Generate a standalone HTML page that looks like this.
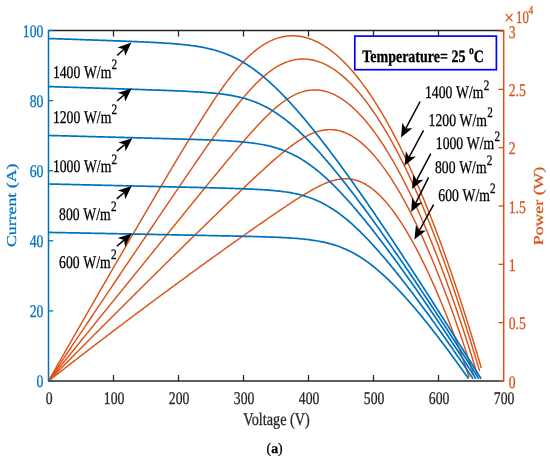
<!DOCTYPE html>
<html><head><meta charset="utf-8"><style>html,body{margin:0;padding:0;background:#fff;}svg{display:block;}</style></head>
<body><svg width="550" height="462" viewBox="0 0 550 462" text-rendering="geometricPrecision" font-family="'Liberation Serif', 'Times New Roman', serif">
<rect width="550" height="462" fill="#fff"/>
<path d="M48.50,381.00 L49.25,379.68 L50.00,378.35 L50.75,377.03 L51.50,375.71 L52.25,374.39 L53.00,373.06 L53.75,371.74 L54.50,370.42 L55.26,369.10 L56.01,367.78 L56.76,366.46 L57.51,365.14 L58.26,363.82 L59.01,362.50 L59.76,361.18 L60.51,359.86 L61.26,358.54 L62.01,357.22 L62.76,355.91 L63.51,354.59 L64.26,353.27 L65.01,351.96 L65.76,350.64 L66.52,349.32 L67.27,348.01 L68.02,346.69 L68.77,345.38 L69.52,344.06 L70.27,342.75 L71.02,341.43 L71.77,340.12 L72.52,338.80 L73.27,337.49 L74.02,336.18 L74.77,334.87 L75.52,333.55 L76.27,332.24 L77.02,330.93 L77.78,329.62 L78.53,328.31 L79.28,327.00 L80.03,325.69 L80.78,324.38 L81.53,323.07 L82.28,321.76 L83.03,320.45 L83.78,319.14 L84.53,317.83 L85.28,316.52 L86.03,315.22 L86.78,313.91 L87.53,312.60 L88.29,311.29 L89.04,309.99 L89.79,308.68 L90.54,307.38 L91.29,306.07 L92.04,304.77 L92.79,303.46 L93.54,302.16 L94.29,300.85 L95.04,299.55 L95.79,298.24 L96.54,296.94 L97.29,295.64 L98.05,294.34 L98.80,293.03 L99.55,291.73 L100.30,290.43 L101.05,289.13 L101.80,287.83 L102.55,286.53 L103.30,285.23 L104.05,283.93 L104.80,282.63 L105.55,281.33 L106.30,280.03 L107.06,278.73 L107.82,277.41 L108.58,276.09 L109.34,274.77 L110.10,273.46 L110.87,272.14 L111.63,270.82 L112.39,269.51 L113.15,268.19 L113.92,266.88 L114.68,265.56 L115.44,264.24 L116.21,262.93 L116.97,261.61 L117.73,260.30 L118.49,258.99 L119.26,257.67 L120.02,256.36 L120.78,255.05 L121.54,253.73 L122.31,252.42 L123.07,251.11 L123.83,249.80 L124.59,248.49 L125.36,247.18 L126.12,245.87 L126.88,244.55 L127.65,243.24 L128.41,241.93 L129.17,240.63 L129.94,239.32 L130.70,238.01 L131.46,236.70 L132.22,235.39 L132.99,234.08 L133.75,232.77 L134.51,231.47 L135.28,230.16 L136.04,228.85 L136.80,227.55 L137.57,226.24 L138.33,224.94 L139.10,223.63 L139.86,222.32 L140.62,221.02 L141.39,219.72 L142.15,218.41 L142.91,217.11 L143.68,215.80 L144.44,214.50 L145.21,213.20 L145.97,211.89 L146.74,210.59 L147.50,209.29 L148.26,207.99 L149.03,206.68 L149.79,205.38 L150.56,204.08 L151.32,202.78 L152.09,201.48 L152.85,200.18 L153.62,198.88 L154.39,197.58 L155.15,196.28 L155.92,194.98 L156.68,193.68 L157.45,192.38 L158.22,191.08 L158.98,189.79 L159.75,188.49 L160.52,187.19 L161.28,185.89 L162.05,184.59 L162.82,183.30 L163.59,182.00 L164.36,180.70 L165.12,179.41 L165.89,178.11 L166.66,176.81 L167.43,175.52 L168.20,174.22 L168.97,172.93 L169.74,171.63 L170.51,170.34 L171.28,169.04 L172.05,167.75 L172.83,166.45 L173.60,165.16 L174.37,163.87 L175.14,162.57 L175.92,161.28 L176.69,159.98 L177.47,158.69 L178.24,157.40 L179.02,156.10 L179.80,154.81 L180.57,153.52 L181.35,152.23 L182.13,150.93 L182.91,149.64 L183.69,148.35 L184.47,147.06 L185.25,145.77 L186.03,144.48 L186.82,143.18 L187.60,141.89 L188.39,140.60 L189.17,139.31 L189.96,138.02 L190.75,136.73 L191.54,135.44 L192.33,134.15 L193.13,132.86 L193.92,131.57 L194.71,130.28 L195.51,128.99 L196.31,127.70 L197.11,126.41 L197.91,125.12 L198.71,123.83 L199.52,122.54 L200.33,121.26 L201.14,119.97 L201.95,118.68 L202.75,117.41 L203.55,116.14 L204.36,114.88 L205.17,113.61 L205.98,112.34 L206.79,111.07 L207.61,109.81 L208.42,108.54 L209.25,107.28 L210.07,106.01 L210.90,104.75 L211.73,103.48 L212.57,102.22 L213.41,100.95 L214.25,99.69 L215.10,98.43 L215.95,97.17 L216.80,95.91 L217.65,94.67 L218.50,93.43 L219.36,92.19 L220.22,90.96 L221.09,89.72 L221.96,88.49 L222.84,87.25 L223.72,86.02 L224.61,84.79 L225.51,83.56 L226.41,82.34 L227.31,81.13 L228.21,79.93 L229.12,78.73 L230.04,77.53 L230.97,76.34 L231.91,75.15 L232.85,73.96 L233.80,72.77 L234.75,71.61 L235.71,70.45 L236.68,69.30 L237.66,68.15 L238.65,67.00 L239.65,65.87 L240.66,64.73 L241.69,63.60 L242.71,62.50 L243.74,61.40 L244.79,60.32 L245.85,59.23 L246.93,58.16 L248.02,57.10 L249.11,56.06 L250.22,55.04 L251.34,54.02 L252.48,53.02 L253.64,52.03 L254.80,51.07 L255.98,50.12 L257.17,49.19 L258.39,48.27 L259.61,47.39 L260.85,46.52 L262.11,45.68 L263.37,44.86 L264.66,44.07 L265.96,43.30 L267.28,42.57 L268.61,41.87 L269.97,41.19 L271.34,40.55 L272.73,39.94 L274.12,39.37 L275.54,38.83 L276.96,38.34 L278.41,37.88 L279.87,37.47 L281.35,37.10 L282.83,36.77 L284.32,36.49 L285.81,36.26 L287.32,36.07 L288.84,35.92 L290.35,35.83 L291.86,35.79 L293.37,35.79 L294.87,35.84 L296.37,35.93 L297.89,36.08 L299.41,36.27 L300.92,36.50 L302.43,36.79 L303.92,37.11 L305.40,37.48 L306.86,37.88 L308.31,38.32 L309.75,38.80 L311.16,39.32 L312.60,39.88 L314.02,40.47 L315.42,41.10 L316.80,41.75 L318.15,42.43 L319.52,43.15 L320.87,43.89 L322.19,44.65 L323.48,45.43 L324.78,46.25 L326.06,47.09 L327.35,47.96 L328.61,48.84 L329.83,49.73 L331.07,50.66 L332.27,51.59 L333.49,52.55 L334.66,53.51 L335.85,54.51 L337.00,55.50 L338.16,56.52 L339.28,57.54 L340.41,58.58 L341.55,59.66 L342.65,60.72 L343.76,61.81 L344.81,62.88 L345.88,63.98 L346.96,65.11 L347.99,66.21 L349.03,67.33 L350.08,68.49 L351.14,69.68 L352.14,70.83 L353.16,72.01 L354.18,73.21 L355.15,74.37 L356.12,75.55 L357.10,76.77 L358.09,78.01 L359.02,79.19 L359.96,80.40 L360.91,81.63 L361.86,82.89 L362.82,84.17 L363.72,85.39 L364.63,86.63 L365.54,87.90 L366.46,89.19 L367.38,90.50 L368.24,91.74 L369.11,92.99 L369.98,94.27 L370.86,95.57 L371.74,96.90 L372.63,98.25 L373.52,99.62 L374.35,100.89 L375.18,102.19 L376.02,103.51 L376.86,104.85 L377.70,106.21 L378.56,107.59 L379.41,108.99 L380.20,110.29 L380.99,111.60 L381.78,112.93 L382.57,114.29 L383.38,115.66 L384.18,117.04 L384.99,118.45 L385.81,119.88 L386.63,121.33 L387.37,122.65 L388.12,123.99 L388.87,125.34 L389.62,126.72 L390.38,128.10 L391.14,129.51 L391.90,130.94 L392.67,132.38 L393.45,133.84 L394.22,135.32 L395.01,136.81 L395.70,138.16 L396.40,139.52 L397.11,140.89 L397.82,142.29 L398.53,143.69 L399.24,145.11 L399.96,146.55 L400.68,148.00 L401.40,149.47 L402.13,150.96 L402.86,152.46 L403.60,153.98 L404.33,155.51 L404.98,156.87 L405.63,158.24 L406.29,159.62 L406.94,161.02 L407.60,162.43 L408.26,163.85 L408.93,165.29 L409.59,166.74 L410.26,168.20 L410.94,169.68 L411.61,171.17 L412.29,172.68 L412.97,174.20 L413.65,175.73 L414.34,177.28 L415.03,178.84 L415.72,180.42 L416.41,182.02 L417.01,183.39 L417.61,184.78 L418.21,186.18 L418.82,187.60 L419.42,189.02 L420.03,190.45 L420.64,191.90 L421.26,193.36 L421.87,194.83 L422.49,196.31 L423.11,197.80 L423.73,199.31 L424.35,200.82 L424.98,202.35 L425.60,203.90 L426.23,205.45 L426.87,207.02 L427.50,208.60 L428.14,210.19 L428.78,211.79 L429.42,213.41 L430.06,215.04 L430.71,216.69 L431.36,218.34 L432.01,220.01 L432.55,221.42 L433.10,222.83 L433.64,224.25 L434.19,225.68 L434.74,227.12 L435.30,228.57 L435.85,230.03 L436.40,231.50 L436.96,232.97 L437.52,234.46 L438.08,235.96 L438.64,237.47 L439.21,238.99 L439.77,240.52 L440.34,242.05 L440.91,243.60 L441.48,245.16 L442.05,246.73 L442.62,248.31 L443.20,249.90 L443.78,251.50 L444.35,253.11 L444.94,254.74 L445.52,256.37 L446.10,258.01 L446.69,259.67 L447.28,261.33 L447.86,263.01 L448.46,264.70 L449.05,266.40 L449.64,268.11 L450.24,269.83 L450.84,271.56 L451.44,273.30 L452.04,275.06 L452.64,276.83 L453.13,278.25 L453.61,279.68 L454.10,281.12 L454.59,282.56 L455.08,284.01 L455.57,285.47 L456.06,286.94 L456.55,288.42 L457.04,289.90 L457.54,291.39 L458.03,292.89 L458.53,294.40 L459.03,295.91 L459.53,297.43 L460.03,298.97 L460.53,300.50 L461.04,302.05 L461.54,303.61 L462.05,305.17 L462.55,306.74 L463.06,308.32 L463.57,309.91 L464.08,311.51 L464.59,313.11 L465.11,314.72 L465.62,316.35 L466.13,317.98 L466.65,319.61 L467.17,321.26 L467.69,322.92 L468.21,324.58 L468.73,326.26 L469.25,327.94 L469.78,329.63 L470.30,331.33 L470.83,333.04 L471.36,334.76 L471.89,336.48 L472.42,338.22 L472.95,339.96 L473.48,341.72 L474.02,343.48 L474.55,345.26 L475.09,347.04 L475.63,348.83 L476.17,350.63 L476.71,352.44 L477.25,354.26 L477.80,356.09 L478.34,357.93 L478.89,359.78 L479.43,361.63 L479.98,363.50 L480.53,365.38 L481.08,367.27 L481.30,368.00" fill="none" stroke="#D95319" stroke-width="1.45" stroke-linejoin="round"/>
<path d="M48.50,381.00 L49.34,379.74 L50.19,378.48 L51.03,377.22 L51.88,375.96 L52.72,374.70 L53.57,373.44 L54.41,372.18 L55.26,370.91 L56.10,369.65 L56.95,368.39 L57.80,367.13 L58.64,365.87 L59.49,364.61 L60.33,363.35 L61.18,362.09 L62.02,360.83 L62.87,359.56 L63.71,358.30 L64.56,357.04 L65.40,355.78 L66.25,354.52 L67.09,353.26 L67.94,352.00 L68.79,350.74 L69.63,349.48 L70.48,348.22 L71.32,346.96 L72.17,345.70 L73.01,344.44 L73.86,343.18 L74.70,341.92 L75.55,340.66 L76.39,339.40 L77.24,338.14 L78.09,336.88 L78.93,335.62 L79.78,334.36 L80.62,333.10 L81.47,331.84 L82.31,330.58 L83.16,329.32 L84.00,328.06 L84.85,326.80 L85.69,325.54 L86.54,324.29 L87.39,323.03 L88.23,321.77 L89.08,320.51 L89.92,319.25 L90.77,317.99 L91.61,316.73 L92.46,315.47 L93.30,314.21 L94.15,312.96 L94.99,311.70 L95.84,310.44 L96.69,309.18 L97.53,307.92 L98.38,306.66 L99.22,305.40 L100.07,304.15 L100.91,302.89 L101.76,301.63 L102.60,300.37 L103.45,299.11 L104.29,297.86 L105.14,296.60 L105.99,295.34 L106.83,294.08 L107.68,292.82 L108.52,291.57 L109.37,290.31 L110.21,289.05 L111.06,287.79 L111.90,286.54 L112.75,285.28 L113.60,284.02 L114.44,282.76 L115.29,281.51 L116.13,280.25 L116.98,278.99 L117.82,277.73 L118.67,276.48 L119.52,275.22 L120.36,273.96 L121.21,272.71 L122.05,271.45 L122.90,270.19 L123.74,268.93 L124.59,267.68 L125.44,266.42 L126.28,265.16 L127.13,263.91 L127.97,262.65 L128.82,261.39 L129.67,260.14 L130.51,258.88 L131.36,257.63 L132.20,256.37 L133.05,255.11 L133.90,253.86 L134.74,252.60 L135.59,251.34 L136.43,250.09 L137.28,248.83 L138.13,247.58 L138.97,246.32 L139.82,245.06 L140.66,243.81 L141.51,242.55 L142.36,241.30 L143.20,240.04 L144.05,238.79 L144.90,237.53 L145.74,236.27 L146.59,235.02 L147.44,233.76 L148.28,232.51 L149.13,231.25 L149.98,230.00 L150.82,228.74 L151.67,227.49 L152.52,226.23 L153.37,224.98 L154.21,223.72 L155.06,222.46 L155.91,221.21 L156.75,219.95 L157.60,218.70 L158.45,217.44 L159.30,216.19 L160.15,214.93 L160.99,213.68 L161.84,212.43 L162.69,211.17 L163.54,209.92 L164.39,208.66 L165.23,207.41 L166.08,206.15 L166.93,204.90 L167.78,203.64 L168.63,202.39 L169.48,201.13 L170.33,199.88 L171.18,198.63 L172.03,197.37 L172.88,196.12 L173.73,194.86 L174.58,193.61 L175.43,192.35 L176.28,191.10 L177.13,189.85 L177.98,188.59 L178.84,187.34 L179.69,186.09 L180.54,184.83 L181.39,183.58 L182.24,182.32 L183.10,181.07 L183.95,179.82 L184.81,178.56 L185.66,177.31 L186.51,176.06 L187.37,174.81 L188.23,173.55 L189.08,172.30 L189.94,171.05 L190.79,169.79 L191.65,168.54 L192.51,167.29 L193.37,166.04 L194.23,164.79 L195.09,163.53 L195.95,162.28 L196.81,161.03 L197.67,159.78 L198.53,158.53 L199.40,157.28 L200.25,156.04 L201.10,154.81 L201.96,153.58 L202.81,152.34 L203.67,151.11 L204.52,149.88 L205.38,148.64 L206.24,147.41 L207.10,146.18 L207.96,144.95 L208.82,143.72 L209.69,142.49 L210.55,141.26 L211.42,140.03 L212.29,138.80 L213.16,137.57 L214.03,136.34 L214.90,135.11 L215.77,133.89 L216.65,132.66 L217.52,131.44 L218.40,130.21 L219.28,128.99 L220.17,127.77 L221.05,126.54 L221.94,125.32 L222.83,124.10 L223.72,122.89 L224.62,121.67 L225.51,120.45 L226.41,119.24 L227.32,118.02 L228.22,116.81 L229.13,115.60 L230.04,114.39 L230.96,113.19 L231.88,111.98 L232.80,110.78 L233.73,109.58 L234.66,108.38 L235.59,107.19 L236.53,106.00 L237.48,104.81 L238.43,103.62 L239.38,102.44 L240.32,101.27 L241.28,100.11 L242.23,98.95 L243.20,97.80 L244.16,96.65 L245.14,95.51 L246.12,94.37 L247.11,93.23 L248.10,92.10 L249.11,90.98 L250.12,89.86 L251.13,88.75 L252.16,87.65 L253.20,86.55 L254.24,85.46 L255.29,84.38 L256.36,83.30 L257.43,82.24 L258.52,81.18 L259.61,80.14 L260.72,79.10 L261.84,78.08 L262.98,77.07 L264.12,76.07 L265.27,75.11 L266.42,74.15 L267.60,73.21 L268.79,72.29 L269.99,71.38 L271.21,70.49 L272.45,69.62 L273.71,68.77 L274.98,67.95 L276.26,67.15 L277.55,66.39 L278.87,65.64 L280.21,64.93 L281.55,64.25 L282.92,63.60 L284.31,62.99 L285.70,62.41 L287.12,61.88 L288.54,61.38 L289.99,60.93 L291.45,60.52 L292.91,60.15 L294.40,59.83 L295.89,59.56 L297.39,59.35 L298.90,59.18 L300.41,59.06 L301.93,58.99 L303.45,58.98 L304.97,59.02 L306.47,59.11 L307.98,59.25 L309.48,59.44 L310.99,59.68 L312.47,59.96 L313.94,60.30 L315.42,60.68 L316.86,61.09 L318.30,61.56 L319.73,62.06 L321.15,62.61 L322.57,63.19 L323.95,63.81 L325.31,64.45 L326.67,65.13 L328.01,65.85 L329.33,66.59 L330.65,67.36 L331.94,68.16 L333.22,68.98 L334.49,69.82 L335.73,70.69 L336.95,71.57 L338.19,72.49 L339.41,73.43 L340.60,74.38 L341.77,75.33 L342.95,76.33 L344.11,77.34 L345.24,78.35 L346.39,79.39 L347.50,80.44 L348.59,81.48 L349.69,82.56 L350.76,83.63 L351.84,84.73 L352.88,85.83 L353.94,86.96 L354.96,88.07 L356.00,89.21 L357.00,90.34 L358.00,91.50 L359.02,92.68 L360.00,93.85 L360.99,95.04 L361.94,96.21 L362.90,97.40 L363.87,98.62 L364.80,99.81 L365.73,101.02 L366.67,102.26 L367.57,103.47 L368.48,104.69 L369.40,105.95 L370.32,107.23 L371.19,108.46 L372.08,109.72 L372.97,111.00 L373.87,112.31 L374.72,113.57 L375.58,114.85 L376.44,116.15 L377.31,117.47 L378.13,118.74 L378.96,120.02 L379.79,121.33 L380.63,122.66 L381.47,124.01 L382.27,125.30 L383.06,126.60 L383.87,127.93 L384.68,129.27 L385.49,130.64 L386.31,132.03 L387.07,133.33 L387.84,134.66 L388.62,136.01 L389.40,137.37 L390.18,138.76 L390.97,140.17 L391.70,141.48 L392.44,142.82 L393.18,144.17 L393.92,145.54 L394.67,146.92 L395.42,148.33 L396.18,149.75 L396.94,151.20 L397.64,152.53 L398.35,153.89 L399.05,155.26 L399.77,156.65 L400.48,158.06 L401.20,159.48 L401.93,160.92 L402.65,162.37 L403.39,163.85 L404.05,165.20 L404.73,166.57 L405.40,167.96 L406.08,169.36 L406.76,170.78 L407.44,172.21 L408.13,173.65 L408.82,175.12 L409.51,176.59 L410.21,178.09 L410.91,179.60 L411.55,180.97 L412.18,182.36 L412.82,183.76 L413.46,185.17 L414.11,186.60 L414.75,188.04 L415.40,189.50 L416.06,190.97 L416.71,192.45 L417.37,193.95 L418.03,195.46 L418.70,196.99 L419.36,198.53 L419.96,199.91 L420.56,201.31 L421.16,202.72 L421.76,204.14 L422.36,205.57 L422.97,207.01 L423.58,208.47 L424.19,209.94 L424.81,211.42 L425.42,212.91 L426.04,214.42 L426.66,215.94 L427.29,217.47 L427.92,219.02 L428.54,220.58 L429.18,222.15 L429.81,223.74 L430.37,225.14 L430.92,226.55 L431.48,227.97 L432.05,229.40 L432.61,230.84 L433.18,232.29 L433.74,233.75 L434.31,235.23 L434.89,236.71 L435.46,238.21 L436.04,239.71 L436.61,241.23 L437.19,242.76 L437.78,244.30 L438.36,245.86 L438.95,247.42 L439.53,249.00 L440.12,250.58 L440.72,252.18 L441.31,253.80 L441.91,255.42 L442.50,257.06 L443.02,258.47 L443.54,259.89 L444.05,261.32 L444.57,262.76 L445.09,264.20 L445.61,265.66 L446.14,267.13 L446.66,268.60 L447.19,270.09 L447.72,271.58 L448.25,273.09 L448.78,274.60 L449.31,276.13 L449.85,277.66 L450.38,279.20 L450.92,280.76 L451.46,282.32 L452.00,283.89 L452.55,285.47 L453.09,287.07 L453.64,288.67 L454.18,290.28 L454.73,291.91 L455.28,293.54 L455.84,295.18 L456.39,296.84 L456.95,298.50 L457.50,300.18 L458.06,301.87 L458.62,303.56 L459.19,305.27 L459.66,306.70 L460.13,308.14 L460.60,309.59 L461.07,311.04 L461.55,312.51 L462.02,313.98 L462.50,315.45 L462.98,316.94 L463.46,318.43 L463.94,319.93 L464.42,321.44 L464.91,322.96 L465.39,324.48 L465.88,326.02 L466.36,327.56 L466.85,329.11 L467.34,330.67 L467.83,332.23 L468.32,333.81 L468.82,335.39 L469.31,336.98 L469.81,338.58 L470.30,340.19 L470.80,341.81 L471.30,343.43 L471.80,345.06 L472.30,346.71 L472.81,348.36 L473.31,350.02 L473.82,351.69 L474.32,353.36 L474.83,355.05 L475.34,356.74 L475.85,358.45 L476.37,360.16 L476.88,361.88 L477.39,363.61 L477.91,365.36 L478.43,367.10 L478.95,368.86 L479.47,370.63 L479.57,371.00" fill="none" stroke="#D95319" stroke-width="1.45" stroke-linejoin="round"/>
<path d="M48.50,381.00 L49.45,379.82 L50.40,378.65 L51.34,377.49 L52.29,376.32 L53.23,375.15 L54.18,373.99 L55.12,372.82 L56.07,371.65 L57.01,370.48 L57.96,369.32 L58.90,368.15 L59.85,366.98 L60.79,365.81 L61.73,364.65 L62.68,363.48 L63.62,362.31 L64.57,361.15 L65.51,359.98 L66.46,358.81 L67.40,357.64 L68.35,356.48 L69.29,355.31 L70.24,354.14 L71.18,352.97 L72.13,351.81 L73.07,350.64 L74.02,349.47 L74.96,348.30 L75.91,347.14 L76.85,345.97 L77.79,344.80 L78.74,343.64 L79.68,342.47 L80.63,341.30 L81.57,340.13 L82.52,338.97 L83.46,337.80 L84.41,336.63 L85.35,335.46 L86.30,334.30 L87.24,333.13 L88.19,331.96 L89.13,330.79 L90.08,329.63 L91.02,328.46 L91.97,327.29 L92.91,326.13 L93.85,324.96 L94.80,323.79 L95.74,322.62 L96.69,321.46 L97.63,320.29 L98.58,319.12 L99.52,317.95 L100.47,316.79 L101.41,315.62 L102.36,314.45 L103.30,313.28 L104.25,312.12 L105.19,310.95 L106.14,309.78 L107.08,308.62 L108.03,307.45 L108.97,306.28 L109.92,305.11 L110.86,303.95 L111.80,302.78 L112.75,301.61 L113.69,300.44 L114.64,299.28 L115.58,298.11 L116.53,296.94 L117.47,295.77 L118.42,294.61 L119.36,293.44 L120.31,292.27 L121.25,291.11 L122.20,289.94 L123.14,288.77 L124.09,287.60 L125.03,286.44 L125.98,285.27 L126.92,284.10 L127.87,282.93 L128.81,281.77 L129.76,280.60 L130.70,279.43 L131.65,278.26 L132.59,277.10 L133.53,275.93 L134.48,274.76 L135.42,273.60 L136.37,272.43 L137.31,271.26 L138.26,270.09 L139.20,268.93 L140.15,267.76 L141.09,266.59 L142.04,265.42 L142.98,264.26 L143.93,263.09 L144.87,261.92 L145.82,260.75 L146.76,259.59 L147.71,258.42 L148.65,257.25 L149.60,256.09 L150.54,254.92 L151.49,253.75 L152.43,252.58 L153.38,251.42 L154.32,250.25 L155.27,249.08 L156.21,247.91 L157.16,246.75 L158.10,245.58 L159.05,244.41 L159.99,243.24 L160.94,242.08 L161.88,240.91 L162.83,239.74 L163.77,238.57 L164.72,237.41 L165.66,236.24 L166.61,235.07 L167.56,233.91 L168.50,232.74 L169.45,231.57 L170.39,230.40 L171.34,229.24 L172.28,228.07 L173.23,226.90 L174.17,225.73 L175.12,224.57 L176.07,223.40 L177.01,222.23 L177.96,221.06 L178.90,219.90 L179.85,218.73 L180.80,217.56 L181.74,216.40 L182.69,215.23 L183.63,214.06 L184.58,212.89 L185.53,211.73 L186.47,210.56 L187.42,209.39 L188.37,208.23 L189.31,207.06 L190.26,205.89 L191.21,204.73 L192.15,203.56 L193.10,202.39 L194.05,201.23 L195.00,200.06 L195.94,198.89 L196.89,197.73 L197.84,196.56 L198.79,195.39 L199.74,194.23 L200.69,193.06 L201.64,191.89 L202.58,190.73 L203.53,189.56 L204.48,188.40 L205.43,187.23 L206.38,186.06 L207.33,184.90 L208.28,183.73 L209.24,182.57 L210.19,181.40 L211.14,180.24 L212.09,179.07 L213.04,177.91 L214.00,176.74 L214.95,175.58 L215.90,174.42 L216.86,173.25 L217.81,172.09 L218.77,170.93 L219.72,169.76 L220.68,168.60 L221.64,167.44 L222.59,166.28 L223.55,165.12 L224.51,163.96 L225.47,162.80 L226.43,161.64 L227.39,160.48 L228.35,159.32 L229.32,158.16 L230.28,157.00 L231.25,155.85 L232.21,154.69 L233.18,153.54 L234.15,152.38 L235.12,151.23 L236.09,150.08 L237.06,148.92 L238.04,147.77 L239.01,146.63 L239.99,145.48 L240.97,144.33 L241.95,143.19 L242.93,142.04 L243.92,140.90 L244.90,139.76 L245.89,138.62 L246.88,137.49 L247.88,136.35 L248.87,135.22 L249.87,134.09 L250.88,132.96 L251.88,131.84 L252.89,130.72 L253.90,129.60 L254.92,128.49 L255.93,127.37 L256.96,126.27 L257.98,125.16 L259.02,124.06 L260.05,122.97 L261.09,121.88 L262.14,120.79 L263.19,119.71 L264.24,118.63 L265.31,117.57 L266.38,116.50 L267.45,115.45 L268.53,114.40 L269.62,113.36 L270.72,112.33 L271.82,111.31 L272.94,110.29 L274.06,109.29 L275.19,108.30 L276.33,107.32 L277.49,106.35 L278.65,105.40 L279.82,104.46 L281.01,103.53 L282.21,102.62 L283.42,101.73 L284.65,100.85 L285.89,100.00 L287.15,99.16 L288.42,98.35 L289.71,97.56 L291.02,96.80 L292.34,96.07 L293.67,95.37 L295.02,94.70 L296.40,94.06 L297.78,93.46 L299.19,92.90 L300.60,92.39 L302.04,91.91 L303.49,91.48 L304.95,91.10 L306.42,90.77 L307.89,90.50 L309.38,90.27 L310.88,90.10 L312.39,89.99 L313.89,89.93 L315.40,89.93 L316.92,89.98 L318.43,90.09 L319.92,90.26 L321.43,90.49 L322.92,90.76 L324.39,91.09 L325.84,91.47 L327.30,91.90 L328.74,92.37 L330.15,92.89 L331.57,93.45 L332.96,94.05 L334.32,94.69 L335.68,95.36 L337.01,96.07 L338.34,96.81 L339.65,97.59 L340.94,98.39 L342.21,99.22 L343.47,100.08 L344.73,100.97 L345.94,101.86 L347.13,102.78 L348.32,103.71 L349.49,104.67 L350.64,105.64 L351.77,106.63 L352.92,107.66 L354.05,108.70 L355.16,109.75 L356.25,110.81 L357.32,111.87 L358.41,112.97 L359.47,114.07 L360.50,115.17 L361.55,116.30 L362.57,117.43 L363.56,118.56 L364.57,119.71 L365.55,120.86 L366.54,122.03 L367.50,123.20 L368.47,124.39 L369.40,125.57 L370.35,126.77 L371.31,128.01 L372.24,129.22 L373.17,130.46 L374.07,131.68 L374.98,132.92 L375.90,134.19 L376.78,135.43 L377.67,136.70 L378.57,137.99 L379.43,139.25 L380.29,140.53 L381.17,141.83 L382.01,143.10 L382.85,144.39 L383.70,145.70 L384.51,146.97 L385.32,148.25 L386.15,149.56 L386.98,150.90 L387.76,152.18 L388.55,153.48 L389.35,154.80 L390.16,156.15 L390.97,157.52 L391.73,158.82 L392.50,160.15 L393.28,161.49 L394.06,162.86 L394.84,164.25 L395.58,165.57 L396.33,166.90 L397.08,168.26 L397.83,169.64 L398.59,171.03 L399.35,172.45 L400.07,173.79 L400.79,175.14 L401.51,176.51 L402.24,177.90 L402.97,179.31 L403.71,180.74 L404.39,182.08 L405.08,183.43 L405.77,184.80 L406.47,186.19 L407.17,187.59 L407.87,189.02 L408.58,190.46 L409.30,191.92 L409.95,193.27 L410.61,194.64 L411.28,196.02 L411.95,197.42 L412.62,198.84 L413.29,200.27 L413.97,201.72 L414.65,203.19 L415.34,204.67 L415.97,206.03 L416.60,207.41 L417.23,208.80 L417.87,210.21 L418.51,211.63 L419.15,213.07 L419.80,214.52 L420.44,215.98 L421.10,217.46 L421.75,218.96 L422.41,220.47 L423.07,222.00 L423.67,223.39 L424.27,224.79 L424.88,226.20 L425.48,227.63 L426.09,229.07 L426.71,230.53 L427.32,231.99 L427.94,233.48 L428.56,234.97 L429.18,236.48 L429.81,238.00 L430.44,239.54 L431.07,241.10 L431.64,242.49 L432.20,243.89 L432.77,245.31 L433.34,246.73 L433.92,248.17 L434.49,249.62 L435.07,251.09 L435.65,252.56 L436.23,254.05 L436.82,255.55 L437.41,257.06 L438.00,258.59 L438.59,260.13 L439.19,261.68 L439.78,263.24 L440.38,264.82 L440.98,266.41 L441.59,268.01 L442.12,269.42 L442.65,270.84 L443.19,272.28 L443.73,273.72 L444.26,275.18 L444.81,276.64 L445.35,278.12 L445.89,279.61 L446.44,281.10 L446.99,282.61 L447.54,284.13 L448.09,285.66 L448.65,287.20 L449.20,288.76 L449.76,290.32 L450.32,291.90 L450.88,293.48 L451.45,295.08 L452.02,296.69 L452.58,298.31 L453.15,299.95 L453.73,301.59 L454.22,303.01 L454.71,304.44 L455.21,305.88 L455.71,307.32 L456.21,308.78 L456.71,310.24 L457.21,311.72 L457.71,313.20 L458.22,314.69 L458.72,316.20 L459.23,317.71 L459.74,319.23 L460.25,320.76 L460.77,322.30 L461.28,323.85 L461.80,325.40 L462.32,326.97 L462.84,328.55 L463.36,330.14 L463.88,331.74 L464.40,333.35 L464.93,334.96 L465.46,336.59 L465.99,338.23 L466.52,339.88 L467.05,341.54 L467.59,343.21 L468.12,344.89 L468.66,346.58 L469.20,348.28 L469.74,349.99 L470.19,351.42 L470.65,352.86 L471.10,354.31 L471.56,355.77 L472.01,357.24 L472.47,358.71 L472.93,360.19 L473.39,361.67 L473.86,363.17 L474.32,364.67 L474.78,366.18 L475.25,367.70 L475.72,369.23 L476.18,370.76 L476.65,372.31 L477.02,373.50" fill="none" stroke="#D95319" stroke-width="1.45" stroke-linejoin="round"/>
<path d="M48.50,381.00 L49.56,379.92 L50.62,378.85 L51.67,377.78 L52.72,376.71 L53.79,375.63 L54.85,374.55 L55.91,373.48 L56.98,372.40 L58.04,371.32 L59.10,370.24 L60.17,369.16 L61.23,368.09 L62.30,367.01 L63.36,365.93 L64.42,364.85 L65.49,363.78 L66.55,362.70 L67.62,361.63 L68.68,360.55 L69.74,359.48 L70.81,358.40 L71.87,357.33 L72.93,356.25 L74.00,355.18 L75.06,354.10 L76.13,353.03 L77.19,351.96 L78.25,350.89 L79.32,349.81 L80.38,348.74 L81.45,347.67 L82.51,346.60 L83.57,345.53 L84.64,344.46 L85.70,343.39 L86.76,342.31 L87.83,341.24 L88.89,340.18 L89.96,339.11 L91.02,338.04 L92.08,336.97 L93.15,335.90 L94.21,334.83 L95.28,333.76 L96.34,332.70 L97.40,331.63 L98.47,330.56 L99.53,329.49 L100.59,328.43 L101.66,327.36 L102.72,326.30 L103.79,325.23 L104.85,324.17 L105.91,323.10 L106.98,322.04 L108.04,320.97 L109.11,319.91 L110.17,318.84 L111.23,317.78 L112.30,316.72 L113.36,315.65 L114.42,314.59 L115.49,313.53 L116.55,312.47 L117.62,311.41 L118.68,310.34 L119.74,309.28 L120.81,308.22 L121.87,307.16 L122.94,306.10 L124.00,305.04 L125.06,303.98 L126.13,302.92 L127.19,301.86 L128.25,300.81 L129.32,299.75 L130.38,298.69 L131.45,297.63 L132.51,296.57 L133.58,295.51 L134.66,294.44 L135.73,293.37 L136.81,292.30 L137.88,291.24 L138.96,290.17 L140.03,289.10 L141.11,288.04 L142.18,286.97 L143.26,285.91 L144.33,284.84 L145.41,283.78 L146.48,282.71 L147.56,281.65 L148.63,280.58 L149.71,279.52 L150.78,278.46 L151.86,277.39 L152.93,276.33 L154.01,275.27 L155.08,274.21 L156.16,273.14 L157.23,272.08 L158.31,271.02 L159.38,269.96 L160.46,268.90 L161.53,267.84 L162.61,266.78 L163.68,265.72 L164.76,264.66 L165.83,263.60 L166.91,262.54 L167.98,261.48 L169.06,260.43 L170.13,259.37 L171.21,258.31 L172.28,257.25 L173.36,256.20 L174.44,255.14 L175.51,254.08 L176.59,253.03 L177.66,251.97 L178.74,250.92 L179.81,249.86 L180.89,248.81 L181.96,247.75 L183.04,246.70 L184.11,245.64 L185.19,244.59 L186.26,243.54 L187.34,242.49 L188.41,241.43 L189.49,240.38 L190.56,239.33 L191.64,238.28 L192.71,237.23 L193.79,236.18 L194.87,235.12 L195.94,234.07 L197.02,233.02 L198.09,231.97 L199.17,230.93 L200.24,229.88 L201.32,228.83 L202.39,227.78 L203.47,226.73 L204.55,225.68 L205.62,224.64 L206.70,223.59 L207.77,222.54 L208.85,221.50 L209.93,220.45 L211.00,219.41 L212.08,218.36 L213.16,217.32 L214.24,216.26 L215.33,215.21 L216.42,214.15 L217.51,213.10 L218.60,212.04 L219.68,210.99 L220.77,209.94 L221.86,208.89 L222.95,207.84 L224.04,206.78 L225.13,205.73 L226.22,204.68 L227.31,203.63 L228.40,202.58 L229.49,201.53 L230.58,200.49 L231.67,199.44 L232.76,198.39 L233.85,197.34 L234.94,196.30 L236.03,195.25 L237.12,194.21 L238.22,193.16 L239.31,192.12 L240.40,191.08 L241.49,190.04 L242.59,188.99 L243.68,187.95 L244.78,186.92 L245.87,185.88 L246.97,184.84 L248.07,183.80 L249.16,182.77 L250.26,181.73 L251.36,180.70 L252.46,179.67 L253.56,178.64 L254.66,177.61 L255.77,176.58 L256.87,175.55 L257.97,174.53 L259.08,173.50 L260.19,172.48 L261.29,171.46 L262.40,170.44 L263.52,169.43 L264.63,168.41 L265.74,167.40 L266.86,166.39 L267.98,165.39 L269.10,164.38 L270.22,163.38 L271.34,162.38 L272.47,161.39 L273.60,160.40 L274.73,159.41 L275.86,158.43 L277.00,157.45 L278.15,156.47 L279.31,155.49 L280.47,154.52 L281.63,153.55 L282.80,152.59 L283.97,151.63 L285.15,150.69 L286.33,149.75 L287.52,148.81 L288.71,147.89 L289.91,146.97 L291.11,146.07 L292.33,145.17 L293.54,144.29 L294.77,143.42 L296.01,142.56 L297.25,141.72 L298.50,140.89 L299.76,140.07 L301.03,139.27 L302.32,138.49 L303.61,137.73 L304.92,136.99 L306.24,136.27 L307.57,135.58 L308.92,134.91 L310.29,134.27 L311.67,133.66 L313.07,133.08 L314.47,132.54 L315.90,132.03 L317.33,131.57 L318.78,131.15 L320.24,130.78 L321.71,130.45 L323.18,130.17 L324.67,129.95 L326.17,129.78 L327.67,129.67 L329.18,129.62 L330.69,129.62 L332.20,129.69 L333.70,129.81 L335.20,129.99 L336.68,130.23 L338.16,130.53 L339.64,130.89 L341.10,131.30 L342.53,131.76 L343.94,132.26 L345.35,132.82 L346.73,133.42 L348.10,134.07 L349.46,134.75 L350.79,135.48 L352.10,136.23 L353.39,137.02 L354.65,137.84 L355.91,138.69 L357.15,139.57 L358.37,140.48 L359.57,141.41 L360.77,142.37 L361.92,143.34 L363.07,144.33 L364.22,145.35 L365.35,146.39 L366.44,147.43 L367.52,148.48 L368.58,149.55 L369.63,150.63 L370.67,151.73 L371.69,152.83 L372.72,153.97 L373.74,155.11 L374.73,156.26 L375.71,157.42 L376.70,158.60 L377.68,159.79 L378.63,160.98 L379.59,162.19 L380.52,163.41 L381.44,164.61 L382.37,165.84 L383.27,167.06 L384.18,168.31 L385.06,169.55 L385.96,170.82 L386.83,172.06 L387.70,173.34 L388.55,174.59 L389.41,175.87 L390.24,177.13 L391.08,178.41 L391.92,179.71 L392.73,180.99 L393.55,182.29 L394.38,183.62 L395.18,184.91 L395.98,186.23 L396.79,187.57 L397.57,188.87 L398.35,190.20 L399.14,191.55 L399.90,192.85 L400.66,194.17 L401.43,195.52 L402.20,196.89 L402.94,198.21 L403.68,199.55 L404.43,200.91 L405.18,202.30 L405.90,203.62 L406.62,204.97 L407.34,206.33 L408.07,207.72 L408.81,209.13 L409.50,210.47 L410.20,211.83 L410.91,213.21 L411.62,214.61 L412.33,216.03 L413.01,217.37 L413.68,218.73 L414.36,220.11 L415.05,221.51 L415.74,222.93 L416.43,224.37 L417.08,225.72 L417.74,227.09 L418.39,228.48 L419.06,229.89 L419.72,231.31 L420.39,232.75 L421.06,234.21 L421.74,235.68 L422.37,237.06 L423.01,238.46 L423.64,239.87 L424.28,241.30 L424.93,242.75 L425.58,244.21 L426.23,245.69 L426.89,247.18 L427.49,248.57 L428.10,249.97 L428.71,251.39 L429.32,252.82 L429.94,254.27 L430.56,255.73 L431.19,257.21 L431.82,258.70 L432.45,260.21 L433.03,261.60 L433.61,263.00 L434.19,264.41 L434.77,265.84 L435.36,267.28 L435.96,268.73 L436.55,270.20 L437.15,271.69 L437.75,273.18 L438.35,274.70 L438.96,276.22 L439.57,277.77 L440.12,279.17 L440.67,280.58 L441.23,282.00 L441.79,283.44 L442.35,284.89 L442.91,286.35 L443.48,287.83 L444.05,289.32 L444.62,290.82 L445.20,292.34 L445.77,293.86 L446.35,295.41 L446.93,296.96 L447.52,298.53 L448.11,300.11 L448.63,301.53 L449.16,302.96 L449.69,304.40 L450.22,305.85 L450.75,307.31 L451.29,308.79 L451.82,310.27 L452.36,311.77 L452.91,313.28 L453.45,314.80 L454.00,316.34 L454.55,317.88 L455.10,319.44 L455.65,321.01 L456.21,322.59 L456.76,324.18 L457.32,325.79 L457.89,327.41 L458.38,328.83 L458.88,330.27 L459.37,331.72 L459.87,333.17 L460.37,334.64 L460.88,336.12 L461.38,337.60 L461.89,339.10 L462.40,340.61 L462.91,342.12 L463.42,343.65 L463.93,345.19 L464.45,346.74 L464.97,348.30 L465.49,349.87 L466.01,351.45 L466.53,353.04 L467.06,354.65 L467.59,356.26 L468.12,357.89 L468.65,359.52 L469.18,361.17 L469.72,362.83 L470.18,364.26 L470.64,365.70 L471.10,367.15 L471.57,368.60 L472.03,370.07 L472.50,371.54 L472.97,373.03 L473.44,374.52 L473.85,375.80" fill="none" stroke="#D95319" stroke-width="1.45" stroke-linejoin="round"/>
<path d="M48.50,381.00 L49.68,380.07 L50.87,379.15 L52.05,378.22 L53.23,377.30 L54.42,376.37 L55.60,375.45 L56.78,374.53 L57.97,373.60 L59.15,372.68 L60.33,371.76 L61.53,370.83 L62.72,369.90 L63.92,368.97 L65.11,368.04 L66.31,367.12 L67.50,366.19 L68.70,365.26 L69.89,364.34 L71.08,363.41 L72.28,362.49 L73.47,361.56 L74.67,360.64 L75.86,359.71 L77.06,358.79 L78.25,357.87 L79.45,356.95 L80.64,356.03 L81.83,355.11 L83.03,354.19 L84.22,353.27 L85.42,352.35 L86.61,351.43 L87.81,350.51 L89.00,349.59 L90.20,348.68 L91.39,347.76 L92.59,346.85 L93.78,345.93 L94.97,345.02 L96.17,344.10 L97.36,343.19 L98.56,342.28 L99.75,341.37 L100.95,340.45 L102.14,339.54 L103.34,338.63 L104.53,337.72 L105.73,336.81 L106.92,335.90 L108.11,335.00 L109.31,334.09 L110.51,333.17 L111.72,332.26 L112.93,331.34 L114.13,330.43 L115.34,329.51 L116.54,328.60 L117.75,327.69 L118.95,326.78 L120.16,325.87 L121.36,324.96 L122.57,324.05 L123.78,323.14 L124.98,322.23 L126.19,321.32 L127.39,320.41 L128.60,319.50 L129.80,318.60 L131.01,317.69 L132.22,316.79 L133.42,315.88 L134.63,314.98 L135.83,314.07 L137.04,313.17 L138.24,312.27 L139.45,311.36 L140.65,310.46 L141.86,309.56 L143.07,308.66 L144.27,307.76 L145.48,306.86 L146.68,305.96 L147.89,305.07 L149.09,304.17 L150.30,303.27 L151.50,302.37 L152.71,301.48 L153.92,300.58 L155.12,299.69 L156.33,298.79 L157.53,297.90 L158.74,297.01 L159.94,296.11 L161.16,295.21 L162.38,294.31 L163.59,293.41 L164.81,292.52 L166.03,291.62 L167.24,290.72 L168.46,289.82 L169.68,288.93 L170.89,288.03 L172.11,287.14 L173.33,286.24 L174.54,285.35 L175.76,284.46 L176.98,283.56 L178.19,282.67 L179.41,281.78 L180.63,280.89 L181.84,280.00 L183.06,279.11 L184.28,278.22 L185.49,277.33 L186.71,276.44 L187.93,275.55 L189.14,274.67 L190.36,273.78 L191.58,272.89 L192.79,272.01 L194.01,271.12 L195.23,270.24 L196.44,269.36 L197.66,268.47 L198.88,267.59 L200.09,266.71 L201.31,265.83 L202.53,264.95 L203.74,264.07 L204.96,263.19 L206.18,262.31 L207.39,261.43 L208.61,260.55 L209.83,259.67 L211.06,258.79 L212.28,257.90 L213.51,257.02 L214.74,256.14 L215.97,255.26 L217.19,254.37 L218.42,253.49 L219.65,252.61 L220.88,251.73 L222.11,250.85 L223.33,249.97 L224.56,249.10 L225.79,248.22 L227.02,247.34 L228.25,246.46 L229.47,245.59 L230.70,244.71 L231.93,243.84 L233.16,242.97 L234.39,242.09 L235.62,241.22 L236.84,240.35 L238.07,239.48 L239.30,238.61 L240.53,237.74 L241.76,236.87 L242.99,236.00 L244.21,235.13 L245.44,234.26 L246.67,233.40 L247.90,232.53 L249.13,231.66 L250.36,230.80 L251.59,229.94 L252.82,229.07 L254.05,228.21 L255.28,227.35 L256.51,226.49 L257.74,225.63 L258.97,224.77 L260.20,223.91 L261.44,223.04 L262.68,222.18 L263.92,221.32 L265.17,220.45 L266.41,219.59 L267.65,218.73 L268.90,217.87 L270.14,217.02 L271.38,216.16 L272.63,215.30 L273.87,214.45 L275.12,213.59 L276.37,212.74 L277.61,211.89 L278.86,211.04 L280.11,210.20 L281.36,209.35 L282.61,208.51 L283.86,207.67 L285.11,206.83 L286.36,205.99 L287.62,205.15 L288.87,204.32 L290.13,203.49 L291.39,202.66 L292.65,201.84 L293.91,201.02 L295.17,200.20 L296.44,199.39 L297.70,198.58 L298.97,197.77 L300.25,196.97 L301.52,196.17 L302.80,195.38 L304.08,194.60 L305.36,193.82 L306.65,193.05 L307.94,192.28 L309.24,191.53 L310.54,190.78 L311.85,190.04 L313.16,189.31 L314.49,188.59 L315.82,187.88 L317.16,187.18 L318.50,186.50 L319.85,185.83 L321.20,185.19 L322.57,184.56 L323.94,183.95 L325.32,183.36 L326.72,182.79 L328.13,182.25 L329.55,181.74 L330.98,181.26 L332.42,180.81 L333.87,180.40 L335.33,180.02 L336.80,179.69 L338.28,179.40 L339.76,179.16 L341.25,178.97 L342.76,178.84 L344.26,178.76 L345.77,178.73 L347.28,178.77 L348.79,178.86 L350.29,179.02 L351.78,179.24 L353.27,179.52 L354.73,179.86 L356.20,180.27 L357.64,180.72 L359.06,181.23 L360.45,181.79 L361.84,182.40 L363.20,183.06 L364.53,183.75 L365.85,184.50 L367.15,185.28 L368.42,186.09 L369.68,186.94 L370.91,187.82 L372.13,188.73 L373.33,189.67 L374.50,190.63 L375.65,191.61 L376.79,192.63 L377.91,193.65 L379.00,194.69 L380.08,195.75 L381.16,196.83 L382.21,197.92 L383.24,199.02 L384.27,200.15 L385.28,201.29 L386.28,202.44 L387.27,203.61 L388.25,204.78 L389.22,205.97 L390.16,207.16 L391.10,208.35 L392.01,209.54 L392.94,210.78 L393.85,212.01 L394.75,213.23 L395.65,214.49 L396.53,215.75 L397.40,216.99 L398.27,218.26 L399.12,219.53 L399.98,220.82 L400.82,222.10 L401.67,223.41 L402.49,224.70 L403.33,226.02 L404.14,227.32 L404.95,228.64 L405.74,229.94 L406.54,231.26 L407.31,232.56 L408.09,233.87 L408.87,235.22 L409.63,236.53 L410.39,237.87 L411.16,239.23 L411.90,240.55 L412.65,241.89 L413.40,243.26 L414.12,244.59 L414.85,245.93 L415.58,247.30 L416.32,248.70 L417.03,250.04 L417.74,251.40 L418.46,252.79 L419.18,254.20 L419.87,255.55 L420.56,256.92 L421.26,258.31 L421.97,259.72 L422.63,261.07 L423.30,262.44 L423.98,263.82 L424.66,265.23 L425.35,266.66 L426.04,268.11 L426.69,269.49 L427.35,270.88 L428.01,272.29 L428.68,273.72 L429.35,275.18 L429.98,276.54 L430.61,277.93 L431.25,279.33 L431.89,280.75 L432.53,282.19 L433.18,283.65 L433.84,285.13 L434.45,286.51 L435.06,287.90 L435.67,289.32 L436.30,290.75 L436.92,292.20 L437.55,293.66 L438.18,295.15 L438.82,296.65 L439.41,298.04 L440.00,299.45 L440.59,300.87 L441.19,302.31 L441.79,303.77 L442.40,305.24 L443.01,306.73 L443.62,308.23 L444.24,309.75 L444.81,311.15 L445.37,312.56 L445.94,313.99 L446.52,315.43 L447.09,316.88 L447.68,318.35 L448.26,319.84 L448.85,321.34 L449.44,322.85 L450.03,324.38 L450.63,325.93 L451.17,327.33 L451.71,328.75 L452.26,330.18 L452.80,331.62 L453.36,333.08 L453.91,334.55 L454.47,336.03 L455.03,337.53 L455.59,339.04 L456.16,340.57 L456.72,342.11 L457.30,343.66 L457.87,345.23 L458.45,346.81 L458.96,348.23 L459.48,349.66 L460.00,351.10 L460.53,352.55 L461.05,354.02 L461.58,355.49 L462.11,356.98 L462.64,358.49 L463.18,360.00 L463.72,361.53 L464.26,363.07 L464.80,364.62 L465.35,366.18 L465.89,367.76 L466.44,369.35 L467.00,370.95 L467.55,372.57 L468.04,373.99 L468.53,375.43 L469.02,376.88 L469.27,377.60" fill="none" stroke="#D95319" stroke-width="1.45" stroke-linejoin="round"/>
<path d="M48.50,38.49 L50.00,38.55 L51.51,38.60 L53.01,38.65 L54.51,38.70 L56.02,38.75 L57.52,38.80 L59.02,38.85 L60.53,38.90 L62.03,38.96 L63.53,39.01 L65.04,39.06 L66.54,39.11 L68.05,39.16 L69.55,39.21 L71.05,39.27 L72.56,39.32 L74.06,39.37 L75.57,39.42 L77.07,39.47 L78.57,39.52 L80.08,39.58 L81.58,39.63 L83.09,39.68 L84.59,39.73 L86.09,39.79 L87.60,39.84 L89.10,39.89 L90.61,39.94 L92.11,40.00 L93.62,40.05 L95.12,40.10 L96.62,40.15 L98.13,40.21 L99.63,40.26 L101.14,40.31 L102.64,40.37 L104.15,40.42 L105.65,40.47 L107.16,40.53 L108.66,40.58 L110.17,40.64 L111.67,40.69 L113.18,40.75 L114.69,40.80 L116.19,40.86 L117.70,40.91 L119.21,40.97 L120.71,41.03 L122.22,41.09 L123.73,41.14 L125.23,41.20 L126.74,41.26 L128.25,41.32 L129.76,41.38 L131.27,41.44 L132.78,41.50 L134.29,41.56 L135.80,41.62 L137.29,41.69 L138.79,41.75 L140.29,41.82 L141.80,41.88 L143.30,41.95 L144.80,42.02 L146.30,42.09 L147.81,42.16 L149.31,42.23 L150.81,42.31 L152.32,42.38 L153.83,42.46 L155.34,42.54 L156.84,42.62 L158.33,42.70 L159.84,42.79 L161.34,42.88 L162.84,42.97 L164.35,43.06 L165.85,43.16 L167.35,43.26 L168.85,43.37 L170.35,43.47 L171.86,43.58 L173.36,43.70 L174.86,43.82 L176.36,43.95 L177.87,44.08 L179.36,44.21 L180.86,44.35 L182.36,44.50 L183.86,44.66 L185.36,44.82 L186.85,44.98 L188.34,45.16 L189.83,45.34 L191.33,45.54 L192.82,45.74 L194.31,45.95 L195.80,46.17 L197.28,46.41 L198.77,46.65 L200.25,46.91 L201.73,47.17 L203.21,47.45 L204.68,47.74 L206.15,48.05 L207.62,48.37 L209.08,48.71 L210.54,49.06 L212.00,49.42 L213.46,49.80 L214.91,50.21 L216.37,50.62 L217.81,51.06 L219.25,51.51 L220.67,51.98 L222.10,52.46 L223.52,52.97 L224.94,53.50 L226.34,54.04 L227.74,54.60 L229.13,55.18 L230.52,55.78 L231.89,56.39 L233.26,57.02 L234.62,57.68 L235.97,58.35 L237.31,59.03 L238.65,59.74 L239.97,60.46 L241.30,61.20 L242.61,61.95 L243.90,62.72 L245.19,63.51 L246.47,64.31 L247.75,65.12 L249.01,65.95 L250.28,66.80 L251.52,67.65 L252.76,68.52 L253.98,69.40 L255.20,70.29 L256.42,71.20 L257.62,72.11 L258.81,73.04 L260.01,73.97 L261.19,74.93 L262.36,75.88 L263.52,76.84 L264.67,77.81 L265.82,78.79 L266.96,79.78 L268.10,80.78 L269.23,81.79 L270.35,82.80 L271.46,83.82 L272.57,84.84 L273.67,85.87 L274.78,86.93 L275.88,87.99 L276.98,89.05 L278.06,90.11 L279.13,91.17 L280.21,92.26 L281.29,93.34 L282.35,94.42 L283.40,95.50 L284.46,96.61 L285.50,97.70 L286.54,98.79 L287.58,99.91 L288.61,101.01 L289.65,102.14 L290.68,103.26 L291.72,104.40 L292.74,105.53 L293.74,106.65 L294.76,107.79 L295.75,108.92 L296.76,110.06 L297.75,111.19 L298.75,112.34 L299.76,113.51 L300.75,114.66 L301.75,115.83 L302.72,116.98 L303.71,118.15 L304.68,119.30 L305.65,120.47 L306.64,121.65 L307.60,122.81 L308.57,123.99 L309.55,125.19 L310.50,126.36 L311.47,127.55 L312.44,128.75 L313.39,129.93 L314.35,131.12 L315.31,132.33 L316.25,133.51 L317.20,134.71 L318.15,135.92 L319.12,137.15 L320.05,138.34 L321.00,139.55 L321.95,140.78 L322.87,141.97 L323.80,143.17 L324.74,144.39 L325.68,145.62 L326.60,146.82 L327.52,148.03 L328.45,149.25 L329.38,150.49 L330.33,151.74 L331.24,152.95 L332.16,154.17 L333.08,155.40 L334.01,156.65 L334.91,157.86 L335.81,159.07 L336.72,160.30 L337.64,161.55 L338.57,162.80 L339.50,164.07 L340.39,165.29 L341.29,166.52 L342.20,167.77 L343.11,169.02 L344.04,170.29 L344.97,171.58 L345.85,172.80 L346.75,174.04 L347.65,175.29 L348.55,176.55 L349.47,177.83 L350.39,179.12 L351.26,180.34 L352.15,181.58 L353.03,182.83 L353.93,184.09 L354.83,185.37 L355.74,186.65 L356.65,187.95 L357.52,189.18 L358.39,190.42 L359.27,191.67 L360.16,192.94 L361.05,194.21 L361.94,195.49 L362.85,196.79 L363.76,198.10 L364.61,199.33 L365.48,200.58 L366.35,201.83 L367.22,203.10 L368.10,204.37 L368.99,205.66 L369.88,206.96 L370.78,208.26 L371.69,209.58 L372.53,210.82 L373.39,212.07 L374.25,213.33 L375.11,214.59 L375.98,215.87 L376.86,217.16 L377.74,218.45 L378.63,219.76 L379.52,221.08 L380.42,222.40 L381.32,223.74 L382.17,224.99 L383.01,226.24 L383.87,227.51 L384.73,228.79 L385.59,230.07 L386.46,231.37 L387.33,232.67 L388.21,233.98 L389.09,235.30 L389.98,236.63 L390.88,237.97 L391.78,239.32 L392.61,240.57 L393.45,241.83 L394.30,243.10 L395.15,244.38 L396.00,245.67 L396.86,246.96 L397.72,248.26 L398.59,249.58 L399.46,250.90 L400.34,252.22 L401.22,253.56 L402.10,254.91 L403.00,256.26 L403.89,257.62 L404.72,258.88 L405.55,260.14 L406.38,261.42 L407.22,262.69 L408.06,263.98 L408.91,265.28 L409.76,266.58 L410.62,267.89 L411.48,269.21 L412.34,270.53 L413.21,271.86 L414.08,273.21 L414.96,274.55 L415.84,275.91 L416.73,277.28 L417.62,278.65 L418.52,280.03 L419.33,281.29 L420.16,282.56 L420.98,283.84 L421.81,285.12 L422.65,286.41 L423.48,287.71 L424.32,289.02 L425.17,290.33 L426.02,291.64 L426.87,292.97 L427.73,294.30 L428.59,295.64 L429.46,296.99 L430.32,298.34 L431.20,299.70 L432.08,301.07 L432.96,302.45 L433.84,303.83 L434.73,305.22 L435.63,306.62 L436.43,307.89 L437.25,309.16 L438.06,310.43 L438.88,311.72 L439.70,313.01 L440.53,314.30 L441.36,315.61 L442.19,316.91 L443.03,318.23 L443.87,319.55 L444.71,320.88 L445.56,322.21 L446.41,323.55 L447.26,324.90 L448.12,326.25 L448.98,327.61 L449.84,328.98 L450.71,330.35 L451.59,331.73 L452.46,333.12 L453.34,334.51 L454.23,335.91 L455.11,337.32 L456.01,338.73 L456.90,340.15 L457.80,341.58 L458.60,342.85 L459.41,344.13 L460.22,345.42 L461.03,346.71 L461.84,348.01 L462.66,349.31 L463.48,350.62 L464.31,351.93 L465.13,353.25 L465.96,354.57 L466.80,355.90 L467.63,357.24 L468.48,358.58 L469.32,359.93 L470.17,361.28 L471.02,362.64 L471.87,364.01 L472.73,365.38 L473.59,366.75 L474.45,368.14 L475.31,369.52 L476.18,370.92 L477.06,372.32 L477.93,373.73 L478.81,375.14 L479.70,376.56 L480.58,377.98 L481.09,378.80" fill="none" stroke="#0072BD" stroke-width="1.7" stroke-linejoin="round"/>
<path d="M48.50,86.55 L50.00,86.60 L51.51,86.65 L53.01,86.69 L54.52,86.74 L56.03,86.79 L57.53,86.84 L59.04,86.89 L60.55,86.94 L62.05,86.98 L63.56,87.03 L65.06,87.08 L66.57,87.13 L68.08,87.18 L69.58,87.23 L71.09,87.27 L72.59,87.32 L74.10,87.37 L75.61,87.42 L77.11,87.47 L78.62,87.52 L80.12,87.56 L81.63,87.61 L83.14,87.66 L84.64,87.71 L86.15,87.76 L87.66,87.81 L89.16,87.85 L90.67,87.90 L92.17,87.95 L93.68,88.00 L95.19,88.05 L96.69,88.10 L98.20,88.14 L99.71,88.19 L101.21,88.24 L102.72,88.29 L104.22,88.34 L105.73,88.39 L107.24,88.44 L108.74,88.49 L110.25,88.53 L111.76,88.58 L113.26,88.63 L114.77,88.68 L116.28,88.73 L117.78,88.78 L119.29,88.83 L120.80,88.88 L122.30,88.93 L123.81,88.97 L125.32,89.02 L126.82,89.07 L128.33,89.12 L129.84,89.17 L131.34,89.22 L132.85,89.27 L134.36,89.32 L135.86,89.37 L137.37,89.42 L138.88,89.47 L140.39,89.52 L141.89,89.57 L143.40,89.63 L144.91,89.68 L146.42,89.73 L147.93,89.78 L149.43,89.83 L150.94,89.88 L152.45,89.94 L153.96,89.99 L155.47,90.04 L156.98,90.10 L158.49,90.15 L160.00,90.21 L161.51,90.26 L163.01,90.32 L164.51,90.37 L166.01,90.43 L167.51,90.49 L169.01,90.54 L170.51,90.60 L172.01,90.66 L173.51,90.72 L175.01,90.79 L176.52,90.85 L178.02,90.91 L179.53,90.98 L181.03,91.04 L182.54,91.11 L184.05,91.18 L185.55,91.25 L187.06,91.33 L188.56,91.40 L190.06,91.48 L191.57,91.56 L193.07,91.64 L194.57,91.73 L196.08,91.82 L197.59,91.91 L199.09,92.00 L200.59,92.10 L202.09,92.20 L203.60,92.31 L205.10,92.42 L206.60,92.53 L208.10,92.65 L209.61,92.78 L211.10,92.91 L212.61,93.04 L214.10,93.19 L215.60,93.34 L217.10,93.50 L218.60,93.66 L220.10,93.84 L221.59,94.02 L223.08,94.21 L224.58,94.42 L226.07,94.63 L227.55,94.86 L229.05,95.09 L230.54,95.35 L232.02,95.61 L233.50,95.89 L234.98,96.18 L236.46,96.48 L237.94,96.80 L239.41,97.14 L240.87,97.50 L242.33,97.87 L243.79,98.26 L245.23,98.66 L246.68,99.09 L248.12,99.53 L249.56,100.00 L250.98,100.48 L252.40,100.98 L253.82,101.50 L255.22,102.04 L256.62,102.61 L258.01,103.19 L259.39,103.79 L260.76,104.41 L262.13,105.05 L263.49,105.71 L264.84,106.39 L266.18,107.09 L267.50,107.80 L268.82,108.54 L270.14,109.29 L271.43,110.05 L272.72,110.83 L274.00,111.63 L275.27,112.45 L276.53,113.27 L277.78,114.11 L279.02,114.97 L280.26,115.84 L281.48,116.72 L282.69,117.62 L283.91,118.53 L285.11,119.45 L286.31,120.39 L287.48,121.32 L288.65,122.27 L289.82,123.23 L290.98,124.21 L292.14,125.20 L293.30,126.20 L294.43,127.19 L295.55,128.19 L296.67,129.20 L297.78,130.21 L298.88,131.23 L299.97,132.26 L301.08,133.31 L302.19,134.37 L303.28,135.43 L304.36,136.50 L305.43,137.56 L306.49,138.62 L307.56,139.71 L308.63,140.80 L309.68,141.88 L310.74,142.99 L311.79,144.10 L312.83,145.19 L313.87,146.32 L314.91,147.43 L315.93,148.54 L316.96,149.67 L317.97,150.78 L319.00,151.93 L320.01,153.05 L321.03,154.20 L322.03,155.34 L323.04,156.50 L324.04,157.64 L325.04,158.80 L326.03,159.94 L327.02,161.11 L328.00,162.25 L328.98,163.42 L329.98,164.60 L330.95,165.76 L331.94,166.94 L332.89,168.10 L333.86,169.27 L334.84,170.47 L335.80,171.63 L336.76,172.82 L337.73,174.02 L338.68,175.19 L339.63,176.38 L340.60,177.59 L341.53,178.76 L342.48,179.95 L343.43,181.16 L344.40,182.39 L345.33,183.57 L346.27,184.78 L347.23,186.00 L348.19,187.24 L349.12,188.44 L350.05,189.65 L351.00,190.89 L351.95,192.13 L352.87,193.34 L353.80,194.55 L354.74,195.79 L355.68,197.04 L356.59,198.24 L357.51,199.46 L358.43,200.69 L359.36,201.94 L360.30,203.20 L361.20,204.41 L362.11,205.63 L363.03,206.87 L363.95,208.12 L364.89,209.38 L365.78,210.60 L366.67,211.82 L367.58,213.06 L368.49,214.31 L369.41,215.57 L370.34,216.85 L371.22,218.06 L372.11,219.29 L373.01,220.53 L373.91,221.79 L374.82,223.05 L375.74,224.33 L376.67,225.62 L377.54,226.85 L378.43,228.09 L379.32,229.34 L380.22,230.60 L381.12,231.87 L382.03,233.16 L382.95,234.45 L383.81,235.68 L384.69,236.92 L385.56,238.16 L386.45,239.42 L387.34,240.69 L388.24,241.97 L389.14,243.27 L390.05,244.57 L390.97,245.88 L391.83,247.12 L392.70,248.37 L393.57,249.63 L394.45,250.89 L395.33,252.17 L396.22,253.46 L397.12,254.76 L398.02,256.07 L398.93,257.39 L399.84,258.72 L400.70,259.96 L401.56,261.22 L402.42,262.48 L403.30,263.76 L404.17,265.04 L405.05,266.33 L405.94,267.64 L406.83,268.95 L407.73,270.27 L408.64,271.60 L409.55,272.95 L410.39,274.20 L411.24,275.45 L412.10,276.72 L412.96,277.99 L413.83,279.28 L414.70,280.57 L415.57,281.87 L416.45,283.18 L417.34,284.50 L418.23,285.83 L419.13,287.17 L420.03,288.51 L420.94,289.87 L421.77,291.12 L422.61,292.38 L423.46,293.65 L424.31,294.92 L425.17,296.21 L426.03,297.50 L426.89,298.80 L427.76,300.11 L428.63,301.43 L429.51,302.75 L430.39,304.09 L431.28,305.43 L432.18,306.78 L433.07,308.14 L433.98,309.51 L434.89,310.89 L435.72,312.15 L436.55,313.41 L437.39,314.69 L438.23,315.97 L439.08,317.26 L439.93,318.55 L440.78,319.86 L441.64,321.17 L442.51,322.49 L443.37,323.82 L444.25,325.15 L445.12,326.49 L446.01,327.84 L446.89,329.20 L447.78,330.57 L448.68,331.94 L449.58,333.32 L450.48,334.71 L451.30,335.97 L452.12,337.24 L452.95,338.51 L453.78,339.78 L454.61,341.07 L455.45,342.36 L456.29,343.66 L457.13,344.96 L457.98,346.27 L458.83,347.59 L459.69,348.91 L460.55,350.25 L461.41,351.59 L462.28,352.93 L463.15,354.28 L464.03,355.64 L464.91,357.01 L465.79,358.38 L466.68,359.77 L467.57,361.15 L468.47,362.55 L469.37,363.95 L470.28,365.36 L471.18,366.78 L472.00,368.05 L472.81,369.32 L473.63,370.60 L474.45,371.88 L475.28,373.17 L476.11,374.47 L476.94,375.77 L477.77,377.08 L478.61,378.39 L478.87,378.80" fill="none" stroke="#0072BD" stroke-width="1.7" stroke-linejoin="round"/>
<path d="M48.50,135.45 L50.01,135.49 L51.51,135.53 L53.01,135.57 L54.52,135.61 L56.02,135.65 L57.52,135.69 L59.02,135.73 L60.53,135.77 L62.03,135.81 L63.53,135.85 L65.03,135.89 L66.54,135.93 L68.04,135.97 L69.54,136.01 L71.04,136.05 L72.55,136.09 L74.05,136.13 L75.55,136.17 L77.06,136.21 L78.56,136.25 L80.06,136.29 L81.56,136.33 L83.07,136.37 L84.57,136.41 L86.07,136.45 L87.57,136.49 L89.08,136.53 L90.58,136.57 L92.08,136.61 L93.58,136.65 L95.09,136.69 L96.59,136.73 L98.09,136.78 L99.59,136.82 L101.10,136.86 L102.60,136.90 L104.10,136.94 L105.61,136.98 L107.11,137.02 L108.61,137.06 L110.11,137.10 L111.62,137.14 L113.12,137.18 L114.62,137.22 L116.12,137.26 L117.63,137.30 L119.13,137.34 L120.63,137.38 L122.14,137.42 L123.64,137.46 L125.14,137.50 L126.64,137.54 L128.15,137.58 L129.65,137.62 L131.15,137.66 L132.66,137.70 L134.16,137.75 L135.66,137.79 L137.16,137.83 L138.67,137.87 L140.17,137.91 L141.67,137.95 L143.18,137.99 L144.68,138.03 L146.18,138.07 L147.68,138.11 L149.19,138.15 L150.69,138.19 L152.19,138.24 L153.70,138.28 L155.20,138.32 L156.70,138.36 L158.21,138.40 L159.71,138.44 L161.21,138.48 L162.72,138.53 L164.22,138.57 L165.73,138.61 L167.23,138.65 L168.73,138.70 L170.24,138.74 L171.74,138.78 L173.25,138.82 L174.75,138.87 L176.25,138.91 L177.76,138.96 L179.26,139.00 L180.77,139.04 L182.27,139.09 L183.78,139.13 L185.29,139.18 L186.79,139.23 L188.30,139.27 L189.80,139.32 L191.31,139.37 L192.82,139.42 L194.33,139.46 L195.83,139.51 L197.34,139.56 L198.85,139.62 L200.36,139.67 L201.87,139.72 L203.37,139.77 L204.87,139.83 L206.37,139.88 L207.87,139.94 L209.37,140.00 L210.88,140.06 L212.38,140.12 L213.88,140.18 L215.39,140.25 L216.90,140.32 L218.40,140.38 L219.91,140.46 L221.41,140.53 L222.91,140.61 L224.42,140.68 L225.92,140.77 L227.43,140.85 L228.94,140.94 L230.44,141.03 L231.94,141.13 L233.44,141.23 L234.95,141.34 L236.45,141.45 L237.95,141.56 L239.45,141.68 L240.95,141.81 L242.45,141.94 L243.96,142.08 L245.45,142.23 L246.96,142.39 L248.45,142.55 L249.95,142.73 L251.45,142.91 L252.94,143.10 L254.44,143.30 L255.93,143.52 L257.41,143.74 L258.90,143.98 L260.39,144.23 L261.87,144.49 L263.36,144.77 L264.84,145.07 L266.32,145.38 L267.79,145.70 L269.25,146.04 L270.72,146.40 L272.18,146.77 L273.63,147.17 L275.08,147.58 L276.52,148.01 L277.96,148.46 L279.38,148.92 L280.81,149.42 L282.23,149.92 L283.64,150.45 L285.05,151.00 L286.44,151.57 L287.83,152.16 L289.20,152.77 L290.58,153.40 L291.95,154.05 L293.30,154.71 L294.64,155.40 L295.97,156.10 L297.31,156.83 L298.63,157.57 L299.93,158.33 L301.23,159.10 L302.50,159.89 L303.78,160.69 L305.05,161.51 L306.32,162.36 L307.57,163.21 L308.80,164.07 L310.03,164.95 L311.25,165.83 L312.46,166.73 L313.68,167.66 L314.87,168.58 L316.06,169.52 L317.25,170.48 L318.41,171.43 L319.58,172.40 L320.74,173.38 L321.89,174.37 L323.04,175.38 L324.17,176.37 L325.28,177.38 L326.39,178.39 L327.50,179.41 L328.59,180.43 L329.71,181.48 L330.81,182.54 L331.91,183.60 L332.99,184.66 L334.07,185.73 L335.13,186.80 L336.21,187.89 L337.28,188.98 L338.34,190.07 L339.38,191.15 L340.44,192.26 L341.48,193.37 L342.51,194.47 L343.55,195.59 L344.58,196.71 L345.62,197.84 L346.64,198.97 L347.65,200.09 L348.67,201.23 L349.67,202.36 L350.68,203.51 L351.68,204.64 L352.69,205.80 L353.67,206.94 L354.67,208.10 L355.65,209.24 L356.64,210.41 L357.64,211.59 L358.61,212.75 L359.60,213.93 L360.56,215.09 L361.54,216.27 L362.53,217.47 L363.49,218.64 L364.46,219.83 L365.44,221.04 L366.39,222.22 L367.36,223.42 L368.33,224.63 L369.28,225.82 L370.24,227.03 L371.21,228.25 L372.14,229.44 L373.09,230.64 L374.05,231.87 L374.97,233.05 L375.91,234.26 L376.85,235.47 L377.80,236.71 L378.72,237.90 L379.65,239.12 L380.59,240.34 L381.53,241.58 L382.44,242.78 L383.36,244.00 L384.29,245.23 L385.23,246.47 L386.17,247.73 L387.08,248.94 L387.99,250.17 L388.92,251.41 L389.85,252.67 L390.79,253.94 L391.69,255.15 L392.59,256.39 L393.51,257.63 L394.43,258.89 L395.36,260.17 L396.25,261.39 L397.15,262.62 L398.05,263.86 L398.96,265.12 L399.88,266.39 L400.80,267.67 L401.69,268.90 L402.57,270.13 L403.47,271.38 L404.37,272.64 L405.28,273.92 L406.19,275.20 L407.11,276.50 L407.99,277.73 L408.87,278.98 L409.76,280.23 L410.65,281.50 L411.55,282.78 L412.46,284.07 L413.37,285.37 L414.24,286.60 L415.11,287.84 L415.98,289.10 L416.86,290.36 L417.75,291.63 L418.64,292.92 L419.54,294.22 L420.45,295.52 L421.36,296.84 L422.22,298.08 L423.08,299.33 L423.95,300.60 L424.83,301.87 L425.71,303.15 L426.59,304.44 L427.48,305.74 L428.38,307.05 L429.29,308.38 L430.20,309.71 L431.05,310.96 L431.90,312.22 L432.76,313.48 L433.63,314.76 L434.50,316.04 L435.38,317.34 L436.26,318.64 L437.15,319.96 L438.04,321.28 L438.94,322.62 L439.85,323.96 L440.69,325.21 L441.53,326.47 L442.38,327.74 L443.24,329.01 L444.10,330.30 L444.96,331.59 L445.83,332.89 L446.71,334.20 L447.59,335.52 L448.47,336.85 L449.36,338.19 L450.26,339.54 L451.16,340.89 L451.99,342.15 L452.83,343.40 L453.67,344.67 L454.51,345.95 L455.36,347.23 L456.21,348.52 L457.07,349.82 L457.93,351.13 L458.80,352.45 L459.67,353.77 L460.55,355.10 L461.43,356.45 L462.32,357.80 L463.21,359.15 L464.10,360.52 L465.00,361.90 L465.83,363.15 L466.65,364.42 L467.49,365.69 L468.32,366.97 L469.16,368.26 L470.00,369.55 L470.85,370.85 L471.70,372.16 L472.56,373.48 L473.42,374.80 L474.29,376.14 L475.16,377.48 L476.02,378.80" fill="none" stroke="#0072BD" stroke-width="1.7" stroke-linejoin="round"/>
<path d="M48.50,183.98 L50.00,184.01 L51.50,184.05 L53.00,184.08 L54.50,184.12 L56.01,184.15 L57.51,184.19 L59.01,184.22 L60.51,184.26 L62.01,184.29 L63.51,184.33 L65.01,184.36 L66.51,184.40 L68.02,184.43 L69.52,184.47 L71.02,184.50 L72.52,184.54 L74.02,184.57 L75.52,184.61 L77.02,184.64 L78.52,184.68 L80.02,184.71 L81.53,184.75 L83.03,184.78 L84.53,184.82 L86.03,184.85 L87.53,184.89 L89.03,184.92 L90.53,184.96 L92.03,184.99 L93.54,185.03 L95.04,185.06 L96.54,185.10 L98.04,185.13 L99.54,185.17 L101.04,185.20 L102.54,185.24 L104.04,185.27 L105.54,185.31 L107.05,185.34 L108.55,185.38 L110.05,185.41 L111.55,185.45 L113.05,185.48 L114.55,185.52 L116.05,185.55 L117.55,185.59 L119.06,185.62 L120.56,185.66 L122.06,185.69 L123.56,185.73 L125.06,185.76 L126.56,185.80 L128.06,185.83 L129.56,185.87 L131.07,185.90 L132.57,185.94 L134.07,185.97 L135.57,186.01 L137.07,186.05 L138.57,186.08 L140.07,186.12 L141.57,186.15 L143.08,186.19 L144.58,186.22 L146.08,186.26 L147.58,186.29 L149.08,186.33 L150.58,186.36 L152.08,186.40 L153.58,186.43 L155.09,186.47 L156.59,186.50 L158.09,186.54 L159.59,186.57 L161.09,186.61 L162.59,186.64 L164.09,186.68 L165.60,186.71 L167.10,186.75 L168.60,186.79 L170.10,186.82 L171.60,186.86 L173.10,186.89 L174.60,186.93 L176.11,186.96 L177.61,187.00 L179.11,187.03 L180.61,187.07 L182.11,187.11 L183.61,187.14 L185.12,187.18 L186.62,187.21 L188.12,187.25 L189.62,187.29 L191.12,187.32 L192.62,187.36 L194.13,187.40 L195.63,187.43 L197.13,187.47 L198.63,187.51 L200.14,187.54 L201.64,187.58 L203.14,187.62 L204.64,187.66 L206.15,187.69 L207.65,187.73 L209.15,187.77 L210.66,187.81 L212.16,187.85 L213.66,187.89 L215.17,187.93 L216.67,187.97 L218.18,188.01 L219.68,188.05 L221.19,188.09 L222.69,188.13 L224.20,188.18 L225.70,188.22 L227.21,188.26 L228.72,188.31 L230.22,188.35 L231.73,188.40 L233.24,188.45 L234.75,188.50 L236.26,188.55 L237.76,188.60 L239.26,188.65 L240.76,188.70 L242.26,188.76 L243.76,188.81 L245.27,188.87 L246.77,188.93 L248.28,188.99 L249.78,189.06 L251.29,189.13 L252.79,189.19 L254.29,189.27 L255.80,189.34 L257.30,189.42 L258.81,189.50 L260.30,189.59 L261.80,189.68 L263.31,189.77 L264.81,189.87 L266.31,189.97 L267.81,190.08 L269.31,190.20 L270.81,190.32 L272.31,190.45 L273.82,190.58 L275.31,190.73 L276.82,190.88 L278.31,191.04 L279.80,191.21 L281.30,191.38 L282.79,191.57 L284.28,191.77 L285.78,191.98 L287.27,192.21 L288.75,192.45 L290.24,192.70 L291.72,192.96 L293.20,193.24 L294.68,193.54 L296.15,193.85 L297.63,194.18 L299.09,194.53 L300.56,194.89 L302.01,195.28 L303.46,195.68 L304.90,196.10 L306.34,196.54 L307.77,197.00 L309.21,197.49 L310.63,197.99 L312.05,198.52 L313.45,199.06 L314.84,199.62 L316.22,200.21 L317.61,200.82 L318.99,201.45 L320.35,202.10 L321.71,202.77 L323.05,203.45 L324.39,204.16 L325.71,204.88 L327.02,205.62 L328.31,206.38 L329.61,207.16 L330.90,207.95 L332.17,208.76 L333.43,209.58 L334.69,210.42 L335.93,211.27 L337.18,212.15 L338.41,213.03 L339.62,213.92 L340.83,214.83 L342.04,215.75 L343.23,216.68 L344.42,217.63 L345.58,218.57 L346.75,219.53 L347.91,220.51 L349.07,221.49 L350.22,222.49 L351.35,223.48 L352.47,224.48 L353.59,225.49 L354.70,226.51 L355.80,227.53 L356.90,228.56 L357.98,229.60 L359.09,230.66 L360.18,231.73 L361.27,232.79 L362.34,233.86 L363.41,234.94 L364.46,236.00 L365.53,237.10 L366.59,238.19 L367.63,239.28 L368.69,240.39 L369.73,241.50 L370.76,242.60 L371.80,243.73 L372.82,244.85 L373.86,245.99 L374.89,247.12 L375.89,248.23 L376.91,249.38 L377.91,250.50 L378.92,251.65 L379.92,252.78 L380.92,253.94 L381.90,255.08 L382.90,256.23 L383.91,257.41 L384.89,258.57 L385.89,259.75 L386.86,260.91 L387.85,262.08 L388.81,263.24 L389.78,264.41 L390.76,265.60 L391.71,266.76 L392.68,267.95 L393.66,269.15 L394.61,270.32 L395.56,271.51 L396.53,272.71 L397.47,273.89 L398.42,275.08 L399.38,276.29 L400.35,277.52 L401.29,278.71 L402.24,279.92 L403.20,281.14 L404.12,282.33 L405.06,283.53 L406.00,284.75 L406.95,285.98 L407.87,287.17 L408.80,288.38 L409.73,289.60 L410.67,290.84 L411.63,292.10 L412.54,293.30 L413.47,294.53 L414.40,295.76 L415.34,297.01 L416.24,298.22 L417.15,299.43 L418.07,300.66 L418.99,301.91 L419.93,303.16 L420.87,304.44 L421.77,305.65 L422.68,306.89 L423.59,308.13 L424.51,309.39 L425.44,310.66 L426.33,311.87 L427.22,313.10 L428.12,314.33 L429.03,315.58 L429.94,316.85 L430.86,318.12 L431.79,319.41 L432.67,320.64 L433.56,321.87 L434.46,323.12 L435.36,324.38 L436.27,325.65 L437.18,326.93 L438.11,328.23 L438.98,329.45 L439.86,330.69 L440.74,331.94 L441.63,333.20 L442.53,334.47 L443.43,335.75 L444.34,337.04 L445.26,338.35 L446.18,339.66 L447.05,340.90 L447.92,342.15 L448.80,343.41 L449.69,344.68 L450.58,345.96 L451.48,347.25 L452.38,348.55 L453.29,349.86 L454.21,351.19 L455.07,352.42 L455.93,353.67 L456.80,354.93 L457.67,356.20 L458.55,357.47 L459.43,358.76 L460.32,360.06 L461.22,361.36 L462.12,362.68 L463.03,364.01 L463.95,365.35 L464.79,366.59 L465.65,367.84 L466.51,369.10 L467.37,370.37 L468.24,371.65 L469.12,372.94 L470.00,374.24 L470.88,375.55 L471.77,376.86 L472.67,378.19 L473.08,378.80" fill="none" stroke="#0072BD" stroke-width="1.7" stroke-linejoin="round"/>
<path d="M48.50,232.39 L50.00,232.42 L51.51,232.45 L53.01,232.48 L54.52,232.50 L56.02,232.53 L57.53,232.56 L59.03,232.59 L60.54,232.62 L62.04,232.65 L63.55,232.68 L65.05,232.71 L66.56,232.74 L68.06,232.77 L69.57,232.80 L71.07,232.83 L72.58,232.86 L74.08,232.89 L75.59,232.92 L77.09,232.94 L78.60,232.97 L80.10,233.00 L81.61,233.03 L83.11,233.06 L84.62,233.09 L86.12,233.12 L87.63,233.15 L89.13,233.18 L90.63,233.21 L92.14,233.24 L93.64,233.27 L95.15,233.30 L96.65,233.33 L98.16,233.36 L99.66,233.39 L101.17,233.41 L102.67,233.44 L104.18,233.47 L105.68,233.50 L107.19,233.53 L108.69,233.56 L110.20,233.59 L111.70,233.62 L113.21,233.65 L114.71,233.68 L116.22,233.71 L117.72,233.74 L119.23,233.77 L120.73,233.80 L122.24,233.83 L123.74,233.86 L125.25,233.89 L126.75,233.91 L128.26,233.94 L129.76,233.97 L131.27,234.00 L132.77,234.03 L134.28,234.06 L135.78,234.09 L137.29,234.12 L138.79,234.15 L140.30,234.18 L141.80,234.21 L143.31,234.24 L144.81,234.27 L146.32,234.30 L147.82,234.33 L149.33,234.36 L150.83,234.38 L152.34,234.41 L153.84,234.44 L155.35,234.47 L156.85,234.50 L158.36,234.53 L159.86,234.56 L161.37,234.59 L162.87,234.62 L164.38,234.65 L165.88,234.68 L167.39,234.71 L168.89,234.74 L170.40,234.77 L171.90,234.80 L173.41,234.83 L174.91,234.86 L176.42,234.89 L177.92,234.92 L179.43,234.95 L180.93,234.98 L182.44,235.00 L183.94,235.03 L185.45,235.06 L186.95,235.09 L188.46,235.12 L189.96,235.15 L191.47,235.18 L192.97,235.21 L194.48,235.24 L195.98,235.27 L197.49,235.30 L198.99,235.33 L200.50,235.36 L202.01,235.39 L203.51,235.42 L205.02,235.45 L206.52,235.48 L208.03,235.51 L209.53,235.55 L211.04,235.58 L212.54,235.61 L214.05,235.64 L215.56,235.67 L217.06,235.70 L218.57,235.73 L220.07,235.76 L221.58,235.79 L223.09,235.82 L224.59,235.86 L226.10,235.89 L227.61,235.92 L229.11,235.95 L230.62,235.99 L232.13,236.02 L233.63,236.05 L235.14,236.09 L236.65,236.12 L238.16,236.15 L239.66,236.19 L241.17,236.22 L242.68,236.26 L244.19,236.29 L245.70,236.33 L247.21,236.37 L248.72,236.41 L250.23,236.44 L251.74,236.48 L253.24,236.52 L254.74,236.56 L256.24,236.60 L257.74,236.65 L259.24,236.69 L260.74,236.73 L262.25,236.78 L263.75,236.83 L265.26,236.87 L266.76,236.92 L268.27,236.98 L269.78,237.03 L271.29,237.08 L272.80,237.14 L274.30,237.20 L275.80,237.26 L277.30,237.32 L278.80,237.39 L280.31,237.46 L281.82,237.53 L283.32,237.61 L284.82,237.68 L286.32,237.77 L287.82,237.85 L289.33,237.94 L290.83,238.04 L292.33,238.14 L293.84,238.25 L295.34,238.36 L296.84,238.47 L298.34,238.60 L299.84,238.73 L301.34,238.87 L302.84,239.01 L304.34,239.17 L305.83,239.33 L307.33,239.50 L308.83,239.68 L310.32,239.87 L311.81,240.08 L313.31,240.29 L314.79,240.52 L316.28,240.76 L317.76,241.01 L319.24,241.28 L320.71,241.56 L322.19,241.85 L323.66,242.17 L325.13,242.49 L326.60,242.84 L328.06,243.20 L329.51,243.58 L330.97,243.98 L332.42,244.40 L333.86,244.84 L335.30,245.29 L336.72,245.77 L338.15,246.26 L339.56,246.78 L340.97,247.31 L342.37,247.87 L343.77,248.44 L345.15,249.04 L346.53,249.65 L347.89,250.28 L349.26,250.94 L350.61,251.61 L351.95,252.30 L353.29,253.01 L354.60,253.73 L355.93,254.48 L357.23,255.24 L358.53,256.02 L359.81,256.81 L361.09,257.62 L362.36,258.45 L363.61,259.28 L364.87,260.14 L366.10,261.00 L367.34,261.88 L368.56,262.77 L369.78,263.68 L370.97,264.59 L372.17,265.52 L373.37,266.46 L374.54,267.41 L375.71,268.36 L376.88,269.33 L378.05,270.32 L379.18,271.30 L380.32,272.28 L381.45,273.28 L382.57,274.29 L383.69,275.30 L384.80,276.32 L385.90,277.35 L387.00,278.38 L388.08,279.42 L389.19,280.48 L390.28,281.54 L391.36,282.61 L392.44,283.68 L393.50,284.75 L394.57,285.84 L395.64,286.94 L396.69,288.02 L397.73,289.11 L398.78,290.22 L399.82,291.32 L400.85,292.42 L401.88,293.54 L402.91,294.65 L403.94,295.78 L404.96,296.91 L405.99,298.05 L407.00,299.19 L408.03,300.34 L409.03,301.48 L410.05,302.65 L411.05,303.79 L412.06,304.96 L413.05,306.12 L414.06,307.29 L415.04,308.44 L416.03,309.61 L417.00,310.76 L417.98,311.93 L418.97,313.12 L419.94,314.29 L420.91,315.47 L421.86,316.63 L422.83,317.81 L423.80,319.00 L424.74,320.17 L425.70,321.36 L426.66,322.56 L427.64,323.77 L428.59,324.96 L429.54,326.17 L430.51,327.39 L431.44,328.58 L432.39,329.78 L433.34,331.00 L434.27,332.18 L435.20,333.38 L436.14,334.60 L437.09,335.83 L438.01,337.02 L438.93,338.23 L439.86,339.45 L440.81,340.68 L441.76,341.93 L442.67,343.14 L443.59,344.36 L444.53,345.60 L445.47,346.85 L446.37,348.06 L447.28,349.27 L448.20,350.51 L449.12,351.75 L450.05,353.01 L450.95,354.22 L451.85,355.44 L452.76,356.68 L453.67,357.92 L454.60,359.18 L455.53,360.46 L456.42,361.68 L457.32,362.91 L458.22,364.15 L459.13,365.41 L460.05,366.68 L460.97,367.96 L461.85,369.18 L462.74,370.41 L463.63,371.66 L464.53,372.92 L465.44,374.18 L466.35,375.47 L467.27,376.76 L468.14,377.99 L468.72,378.80" fill="none" stroke="#0072BD" stroke-width="1.7" stroke-linejoin="round"/>
<line x1="48.5" y1="30.5" x2="503.7" y2="30.5" stroke="#262626" stroke-width="1.5"/>
<line x1="48.5" y1="381" x2="503.7" y2="381" stroke="#262626" stroke-width="1.5"/>
<line x1="113.50" y1="381" x2="113.50" y2="375.0" stroke="#262626" stroke-width="1.3"/>
<line x1="113.50" y1="30.5" x2="113.50" y2="36.5" stroke="#262626" stroke-width="1.3"/>
<line x1="178.50" y1="381" x2="178.50" y2="375.0" stroke="#262626" stroke-width="1.3"/>
<line x1="178.50" y1="30.5" x2="178.50" y2="36.5" stroke="#262626" stroke-width="1.3"/>
<line x1="243.50" y1="381" x2="243.50" y2="375.0" stroke="#262626" stroke-width="1.3"/>
<line x1="243.50" y1="30.5" x2="243.50" y2="36.5" stroke="#262626" stroke-width="1.3"/>
<line x1="308.50" y1="381" x2="308.50" y2="375.0" stroke="#262626" stroke-width="1.3"/>
<line x1="308.50" y1="30.5" x2="308.50" y2="36.5" stroke="#262626" stroke-width="1.3"/>
<line x1="373.50" y1="381" x2="373.50" y2="375.0" stroke="#262626" stroke-width="1.3"/>
<line x1="373.50" y1="30.5" x2="373.50" y2="36.5" stroke="#262626" stroke-width="1.3"/>
<line x1="438.50" y1="381" x2="438.50" y2="375.0" stroke="#262626" stroke-width="1.3"/>
<line x1="438.50" y1="30.5" x2="438.50" y2="36.5" stroke="#262626" stroke-width="1.3"/>
<line x1="48.5" y1="30" x2="48.5" y2="381.6" stroke="#0072BD" stroke-width="1.5"/>
<line x1="48.5" y1="381.00" x2="53.2" y2="381.00" stroke="#0072BD" stroke-width="1.3"/>
<text transform="translate(43.40,387.40) scale(0.77,1)" text-anchor="end" font-size="17.8" fill="#0072BD" stroke="#0072BD" stroke-width="0.3" font-weight="normal">0</text>
<line x1="48.5" y1="310.90" x2="53.2" y2="310.90" stroke="#0072BD" stroke-width="1.3"/>
<text transform="translate(43.40,317.30) scale(0.77,1)" text-anchor="end" font-size="17.8" fill="#0072BD" stroke="#0072BD" stroke-width="0.3" font-weight="normal">20</text>
<line x1="48.5" y1="240.80" x2="53.2" y2="240.80" stroke="#0072BD" stroke-width="1.3"/>
<text transform="translate(43.40,247.20) scale(0.77,1)" text-anchor="end" font-size="17.8" fill="#0072BD" stroke="#0072BD" stroke-width="0.3" font-weight="normal">40</text>
<line x1="48.5" y1="170.70" x2="53.2" y2="170.70" stroke="#0072BD" stroke-width="1.3"/>
<text transform="translate(43.40,177.10) scale(0.77,1)" text-anchor="end" font-size="17.8" fill="#0072BD" stroke="#0072BD" stroke-width="0.3" font-weight="normal">60</text>
<line x1="48.5" y1="100.60" x2="53.2" y2="100.60" stroke="#0072BD" stroke-width="1.3"/>
<text transform="translate(43.40,107.00) scale(0.77,1)" text-anchor="end" font-size="17.8" fill="#0072BD" stroke="#0072BD" stroke-width="0.3" font-weight="normal">80</text>
<line x1="48.5" y1="30.50" x2="53.2" y2="30.50" stroke="#0072BD" stroke-width="1.3"/>
<text transform="translate(43.40,36.90) scale(0.77,1)" text-anchor="end" font-size="17.8" fill="#0072BD" stroke="#0072BD" stroke-width="0.3" font-weight="normal">100</text>
<line x1="503.7" y1="30" x2="503.7" y2="381.6" stroke="#D95319" stroke-width="1.5"/>
<line x1="503.7" y1="381.00" x2="498.5" y2="381.00" stroke="#D95319" stroke-width="1.3"/>
<text transform="translate(508.70,387.60) scale(0.77,1)" text-anchor="start" font-size="17.8" fill="#D95319" stroke="#D95319" stroke-width="0.3" font-weight="normal">0</text>
<line x1="503.7" y1="322.67" x2="498.5" y2="322.67" stroke="#D95319" stroke-width="1.3"/>
<text transform="translate(508.70,329.27) scale(0.77,1)" text-anchor="start" font-size="17.8" fill="#D95319" stroke="#D95319" stroke-width="0.3" font-weight="normal">0.5</text>
<line x1="503.7" y1="264.33" x2="498.5" y2="264.33" stroke="#D95319" stroke-width="1.3"/>
<text transform="translate(508.70,270.93) scale(0.77,1)" text-anchor="start" font-size="17.8" fill="#D95319" stroke="#D95319" stroke-width="0.3" font-weight="normal">1</text>
<line x1="503.7" y1="206.00" x2="498.5" y2="206.00" stroke="#D95319" stroke-width="1.3"/>
<text transform="translate(508.70,212.60) scale(0.77,1)" text-anchor="start" font-size="17.8" fill="#D95319" stroke="#D95319" stroke-width="0.3" font-weight="normal">1.5</text>
<line x1="503.7" y1="147.67" x2="498.5" y2="147.67" stroke="#D95319" stroke-width="1.3"/>
<text transform="translate(508.70,154.27) scale(0.77,1)" text-anchor="start" font-size="17.8" fill="#D95319" stroke="#D95319" stroke-width="0.3" font-weight="normal">2</text>
<line x1="503.7" y1="89.33" x2="498.5" y2="89.33" stroke="#D95319" stroke-width="1.3"/>
<text transform="translate(508.70,95.93) scale(0.77,1)" text-anchor="start" font-size="17.8" fill="#D95319" stroke="#D95319" stroke-width="0.3" font-weight="normal">2.5</text>
<line x1="503.7" y1="31.00" x2="498.5" y2="31.00" stroke="#D95319" stroke-width="1.3"/>
<text transform="translate(508.70,37.60) scale(0.77,1)" text-anchor="start" font-size="17.8" fill="#D95319" stroke="#D95319" stroke-width="0.3" font-weight="normal">3</text>
<text transform="translate(504.30,23.80) scale(0.9,1)" text-anchor="start" font-size="19" fill="#D95319" stroke="#D95319" stroke-width="0.3" font-weight="normal">×</text>
<text transform="translate(516.00,22.70) scale(0.72,1)" text-anchor="start" font-size="17.8" fill="#D95319" stroke="#D95319" stroke-width="0.3" font-weight="normal">10</text>
<text transform="translate(528.40,14.20) scale(0.77,1)" text-anchor="start" font-size="12.3" fill="#D95319" stroke="#D95319" stroke-width="0.3" font-weight="normal">4</text>
<text transform="translate(49.10,404.00) scale(0.77,1)" text-anchor="middle" font-size="17.8" fill="#262626" stroke="#262626" stroke-width="0.3" font-weight="normal">0</text>
<text transform="translate(114.10,404.00) scale(0.77,1)" text-anchor="middle" font-size="17.8" fill="#262626" stroke="#262626" stroke-width="0.3" font-weight="normal">100</text>
<text transform="translate(179.10,404.00) scale(0.77,1)" text-anchor="middle" font-size="17.8" fill="#262626" stroke="#262626" stroke-width="0.3" font-weight="normal">200</text>
<text transform="translate(244.10,404.00) scale(0.77,1)" text-anchor="middle" font-size="17.8" fill="#262626" stroke="#262626" stroke-width="0.3" font-weight="normal">300</text>
<text transform="translate(309.10,404.00) scale(0.77,1)" text-anchor="middle" font-size="17.8" fill="#262626" stroke="#262626" stroke-width="0.3" font-weight="normal">400</text>
<text transform="translate(374.10,404.00) scale(0.77,1)" text-anchor="middle" font-size="17.8" fill="#262626" stroke="#262626" stroke-width="0.3" font-weight="normal">500</text>
<text transform="translate(439.10,404.00) scale(0.77,1)" text-anchor="middle" font-size="17.8" fill="#262626" stroke="#262626" stroke-width="0.3" font-weight="normal">600</text>
<text transform="translate(504.10,404.00) scale(0.77,1)" text-anchor="middle" font-size="17.8" fill="#262626" stroke="#262626" stroke-width="0.3" font-weight="normal">700</text>
<text transform="translate(276.50,425.30) scale(0.8,1)" text-anchor="middle" font-size="17.8" fill="#262626" stroke="#262626" stroke-width="0.3" font-weight="normal">Voltage (V)</text>
<text transform="translate(15.6,205.3) scale(0.77,1) rotate(-90)" text-anchor="middle" font-size="17.8" fill="#0072BD" stroke="#0072BD" stroke-width="0.3">Current (A)</text>
<text transform="translate(542.7,206) scale(0.77,1) rotate(-90)" text-anchor="middle" font-size="17.8" fill="#D95319" stroke="#D95319" stroke-width="0.3">Power (W)</text>
<rect x="354.8" y="36.1" width="141.6" height="33.6" fill="#fff" stroke="#0000FF" stroke-width="1.7"/>
<text transform="translate(362.2,61.7) scale(0.805,1)" font-size="17.4" font-weight="bold" fill="#000" stroke="#000" stroke-width="0.3">Temperature= 25 <tspan font-size="12" dy="-7.6">o</tspan><tspan dy="7.6">C</tspan></text>
<text transform="translate(52.90,77.60) scale(0.77,1)" font-size="17.8" fill="#000" stroke="#000" stroke-width="0.3" word-spacing="0.6">1400 W/m<tspan font-size="14.5" dy="-8.2" dx="0.3">2</tspan></text>
<text transform="translate(52.90,122.60) scale(0.77,1)" font-size="17.8" fill="#000" stroke="#000" stroke-width="0.3" word-spacing="0.6">1200 W/m<tspan font-size="14.5" dy="-8.2" dx="0.3">2</tspan></text>
<text transform="translate(52.90,172.00) scale(0.77,1)" font-size="17.8" fill="#000" stroke="#000" stroke-width="0.3" word-spacing="0.6">1000 W/m<tspan font-size="14.5" dy="-8.2" dx="0.3">2</tspan></text>
<text transform="translate(59.10,219.60) scale(0.77,1)" font-size="17.8" fill="#000" stroke="#000" stroke-width="0.3" word-spacing="0.6">800 W/m<tspan font-size="14.5" dy="-8.2" dx="0.3">2</tspan></text>
<text transform="translate(59.10,267.50) scale(0.77,1)" font-size="17.8" fill="#000" stroke="#000" stroke-width="0.3" word-spacing="0.6">600 W/m<tspan font-size="14.5" dy="-8.2" dx="0.3">2</tspan></text>
<text transform="translate(425.00,97.70) scale(0.77,1)" font-size="17.8" fill="#000" stroke="#000" stroke-width="0.3" word-spacing="0.6">1400 W/m<tspan font-size="14.5" dy="-8.2" dx="0.3">2</tspan></text>
<text transform="translate(428.60,125.50) scale(0.77,1)" font-size="17.8" fill="#000" stroke="#000" stroke-width="0.3" word-spacing="0.6">1200 W/m<tspan font-size="14.5" dy="-8.2" dx="0.3">2</tspan></text>
<text transform="translate(435.80,149.40) scale(0.77,1)" font-size="17.8" fill="#000" stroke="#000" stroke-width="0.3" word-spacing="0.6">1000 W/m<tspan font-size="14.5" dy="-8.2" dx="0.3">2</tspan></text>
<text transform="translate(435.00,172.80) scale(0.77,1)" font-size="17.8" fill="#000" stroke="#000" stroke-width="0.3" word-spacing="0.6">800 W/m<tspan font-size="14.5" dy="-8.2" dx="0.3">2</tspan></text>
<text transform="translate(438.30,200.90) scale(0.77,1)" font-size="17.8" fill="#000" stroke="#000" stroke-width="0.3" word-spacing="0.6">600 W/m<tspan font-size="14.5" dy="-8.2" dx="0.3">2</tspan></text>
<line x1="117.10" y1="55.50" x2="123.97" y2="49.30" stroke="#000" stroke-width="1.5"/><polygon points="131.40,42.60 125.19,55.87 123.97,49.30 117.56,47.41" fill="#000"/>
<line x1="117.00" y1="101.00" x2="124.11" y2="94.91" stroke="#000" stroke-width="1.5"/><polygon points="131.70,88.40 125.16,101.51 124.11,94.91 117.74,92.86" fill="#000"/>
<line x1="116.80" y1="151.10" x2="124.61" y2="144.60" stroke="#000" stroke-width="1.5"/><polygon points="132.30,138.20 125.57,151.22 124.61,144.60 118.28,142.45" fill="#000"/>
<line x1="116.80" y1="198.90" x2="124.14" y2="192.55" stroke="#000" stroke-width="1.5"/><polygon points="131.70,186.00 125.22,199.15 124.14,192.55 117.76,190.53" fill="#000"/>
<line x1="116.80" y1="246.30" x2="124.09" y2="240.09" stroke="#000" stroke-width="1.5"/><polygon points="131.70,233.60 125.12,246.70 124.09,240.09 117.73,238.02" fill="#000"/>
<line x1="420.10" y1="101.50" x2="405.70" y2="128.57" stroke="#000" stroke-width="1.5"/><polygon points="401.00,137.40 402.31,122.80 405.70,128.57 412.37,128.16" fill="#000"/>
<line x1="423.50" y1="130.40" x2="409.23" y2="156.99" stroke="#000" stroke-width="1.5"/><polygon points="404.50,165.80 405.86,151.21 409.23,156.99 415.91,156.60" fill="#000"/>
<line x1="430.80" y1="153.70" x2="416.70" y2="180.17" stroke="#000" stroke-width="1.5"/><polygon points="412.00,189.00 413.31,174.41 416.70,180.17 423.38,179.76" fill="#000"/>
<line x1="428.60" y1="177.30" x2="415.67" y2="203.16" stroke="#000" stroke-width="1.5"/><polygon points="411.20,212.10 412.14,197.48 415.67,203.16 422.34,202.57" fill="#000"/>
<line x1="433.60" y1="204.70" x2="419.23" y2="230.74" stroke="#000" stroke-width="1.5"/><polygon points="414.40,239.50 415.93,224.93 419.23,230.74 425.91,230.43" fill="#000"/>
<text transform="translate(274.6,452.8) scale(0.95,1)" text-anchor="middle" font-size="14.5" font-weight="normal" fill="#000" stroke="#000" stroke-width="0.3">(<tspan font-weight="bold">a</tspan>)</text>
</svg></body></html>
